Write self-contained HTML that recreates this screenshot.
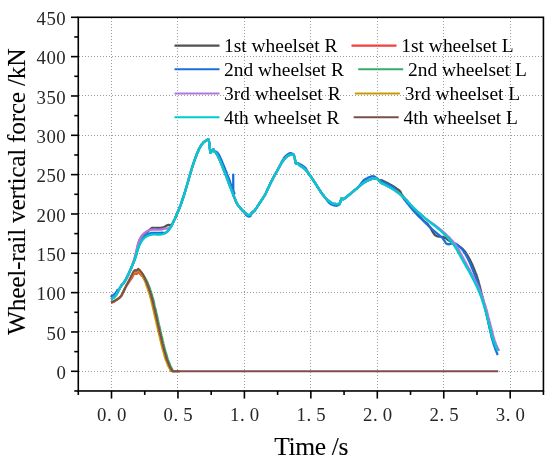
<!DOCTYPE html>
<html lang="en"><head><meta charset="utf-8"><title>Wheel-rail vertical force</title>
<style>html,body{margin:0;padding:0;background:#fff;}svg{display:block;}text{font-family:"Liberation Serif","Noto Serif CJK SC",serif;fill:#000;}.tk{font-size:18.8px;letter-spacing:0.6px;fill:#262626;}.lg{font-size:19.45px;}.ax{font-size:25.5px;stroke:#000;stroke-width:0.1px;}</style></head><body>
<svg width="550" height="466" viewBox="0 0 550 466">
<rect x="0" y="0" width="550" height="466" fill="#ffffff"/>
<g stroke="#9c9c9c" stroke-width="1" stroke-dasharray="1 2" fill="none">
<line x1="111.5" y1="18" x2="111.5" y2="391.0"/>
<line x1="177.5" y1="18" x2="177.5" y2="391.0"/>
<line x1="244.5" y1="18" x2="244.5" y2="391.0"/>
<line x1="310.5" y1="18" x2="310.5" y2="391.0"/>
<line x1="377.5" y1="18" x2="377.5" y2="391.0"/>
<line x1="443.5" y1="18" x2="443.5" y2="391.0"/>
<line x1="510.5" y1="18" x2="510.5" y2="391.0"/>
<line x1="79" y1="371.5" x2="543.4" y2="371.5"/>
<line x1="79" y1="331.5" x2="543.4" y2="331.5"/>
<line x1="79" y1="292.5" x2="543.4" y2="292.5"/>
<line x1="79" y1="253.5" x2="543.4" y2="253.5"/>
<line x1="79" y1="213.5" x2="543.4" y2="213.5"/>
<line x1="79" y1="174.5" x2="543.4" y2="174.5"/>
<line x1="79" y1="135.5" x2="543.4" y2="135.5"/>
<line x1="79" y1="95.5" x2="543.4" y2="95.5"/>
<line x1="79" y1="56.5" x2="543.4" y2="56.5"/>
</g>
<g fill="none" stroke-width="2.1" stroke-linejoin="round" stroke-linecap="butt">
<path stroke="#515151" stroke-width="2.3" d="M111.1,299.1 L111.7,298.7 L112.4,298.4 L113.0,298.0 L113.6,297.5 L114.1,297.1 L114.7,296.6 L115.1,296.1 L115.6,295.6 L116.0,295.1 L116.4,294.6 L116.8,293.9 L117.1,293.2 L117.5,292.6 L117.8,291.9 L118.2,291.2 L118.5,290.5 L118.8,289.9 L119.2,289.3 L119.5,288.7 L119.9,288.1 L120.2,287.4 L120.6,286.8 L121.0,286.2 L121.3,285.6 L121.8,285.1 L122.2,284.6 L122.7,284.2 L123.1,283.7 L123.6,283.2 L124.0,282.6 L124.3,281.9 L124.7,281.3 L125.1,280.7 L125.5,280.1 L125.8,279.4 L126.2,278.8 L126.5,278.1 L126.9,277.4 L127.2,276.8 L127.5,276.1 L127.8,275.4 L128.2,274.8 L128.5,274.1 L128.8,273.4 L129.1,272.7 L129.5,271.9 L129.8,271.2 L130.1,270.5 L130.4,269.8 L130.8,269.0 L131.1,268.3 L131.4,267.6 L131.7,266.8 L132.0,266.1 L132.3,265.4 L132.6,264.7 L132.9,263.9 L133.2,263.2 L133.5,262.5 L133.8,261.7 L134.1,260.9 L134.4,259.9 L134.7,258.9 L135.0,258.0 L135.2,257.1 L135.4,256.2 L135.6,255.4 L135.9,254.5 L136.1,253.6 L136.3,252.8 L136.5,251.9 L136.7,251.0 L136.9,250.1 L137.1,249.2 L137.3,248.3 L137.5,247.4 L137.7,246.5 L137.9,245.6 L138.2,244.7 L138.4,243.8 L138.7,242.9 L138.9,242.1 L139.2,241.3 L139.4,240.6 L139.7,240.0 L140.1,239.4 L140.4,238.7 L140.8,238.1 L141.1,237.5 L141.5,237.0 L141.8,236.5 L142.2,236.0 L142.6,235.5 L143.0,235.2 L143.4,234.8 L143.9,234.3 L144.3,233.9 L144.8,233.5 L145.2,233.2 L145.7,232.8 L146.2,232.4 L146.9,232.0 L147.5,231.7 L148.2,231.2 L148.8,230.6 L149.4,230.1 L150.0,229.5 L150.7,229.0 L151.3,228.4 L152.0,227.9 L152.7,227.9 L153.3,227.8 L154.0,227.8 L154.7,227.8 L155.3,227.8 L155.9,227.8 L156.6,227.9 L157.2,227.9 L157.9,227.9 L158.6,227.9 L159.3,227.9 L160.0,227.9 L160.9,227.8 L161.8,227.7 L162.7,227.6 L163.4,227.3 L164.2,227.0 L165.0,226.7 L165.6,226.3 L166.1,225.9 L166.7,225.5 L167.2,225.3 L167.8,225.1 L168.4,224.9 L169.0,225.0 L169.5,225.1 L169.9,225.1 L170.2,225.0 L170.6,224.9 L170.9,224.8 L171.3,224.7 L171.6,224.6 L172.0,224.4 L172.3,224.0 L172.6,223.4 L173.0,222.8 L173.3,222.1 L173.6,221.4 L173.9,220.7 L174.2,220.0 L174.6,219.3 L174.9,218.7 L175.2,218.0 L175.5,217.4 L175.8,216.7 L176.1,216.1 L176.3,215.4 L176.6,214.8 L176.9,214.1 L177.2,213.5 L177.5,212.9 L177.7,212.2 L178.0,211.6 L178.3,210.9 L178.6,210.3 L178.8,209.6 L179.1,209.0 L179.3,208.4 L179.6,207.7 L179.8,207.1 L180.1,206.4 L180.3,205.8 L180.6,205.1 L180.8,204.5 L181.1,203.8 L181.3,203.0 L181.6,202.2 L181.8,201.5 L182.1,200.8 L182.3,200.0 L182.6,199.2 L182.8,198.5 L183.1,197.8 L183.4,197.0 L183.6,196.2 L183.8,195.5 L184.1,194.8 L184.3,194.0 L184.5,193.2 L184.8,192.5 L185.0,191.8 L185.2,191.0 L185.4,190.3 L185.7,189.5 L185.9,188.8 L186.1,188.0 L186.3,187.3 L186.6,186.5 L186.8,185.8 L187.0,185.0 L187.2,184.3 L187.4,183.6 L187.6,182.8 L187.9,182.1 L188.1,181.3 L188.3,180.6 L188.5,179.8 L188.7,179.1 L188.9,178.3 L189.1,177.6 L189.4,176.8 L189.6,176.1 L189.8,175.3 L190.0,174.6 L190.2,173.8 L190.4,173.1 L190.7,172.3 L190.9,171.6 L191.1,170.8 L191.3,170.1 L191.6,169.3 L191.8,168.6 L192.0,167.8 L192.2,167.1 L192.5,166.3 L192.7,165.6 L193.0,164.9 L193.2,164.1 L193.5,163.4 L193.7,162.6 L194.0,161.9 L194.2,161.2 L194.5,160.4 L194.7,159.7 L195.0,159.0 L195.3,158.2 L195.6,157.5 L195.8,156.8 L196.1,156.0 L196.4,155.3 L196.7,154.5 L197.0,153.8 L197.3,153.2 L197.6,152.5 L197.8,151.8 L198.1,151.2 L198.4,150.6 L198.6,149.9 L198.9,149.2 L199.2,148.6 L199.6,148.0 L200.0,147.3 L200.3,146.7 L200.7,146.1 L201.1,145.4 L201.5,144.8 L201.9,144.3 L202.3,143.8 L202.8,143.3 L203.2,142.8 L203.6,142.3 L204.2,141.9 L204.7,141.5 L205.3,141.1 L205.8,140.7 L206.4,140.3 L207.0,140.0 L207.6,139.6 L208.2,139.3 L208.4,139.8 L208.7,140.3 L208.9,140.8 L209.0,141.5 L209.2,142.2 L209.3,142.8 L209.4,143.5 L209.5,144.2 L209.5,145.0 L209.6,145.8 L209.7,146.5 L209.7,147.2 L209.8,148.0 L209.9,148.8 L210.0,149.5 L210.1,150.3 L210.1,151.1 L210.2,151.8 L210.3,152.6 L210.7,152.4 L211.0,152.2 L211.4,151.5 L211.8,150.9 L212.2,150.2 L212.8,149.7 L213.4,149.2 L213.6,149.8 L213.8,150.3 L213.9,150.9 L214.1,151.5 L214.7,151.9 L215.4,152.4 L216.0,152.8 L216.3,153.4 L216.7,154.1 L217.1,154.7 L217.4,155.3 L217.8,156.0 L218.1,156.6 L218.4,157.3 L218.7,157.9 L219.0,158.6 L219.3,159.2 L219.6,159.9 L219.9,160.5 L220.2,161.2 L220.5,161.9 L220.8,162.7 L221.1,163.4 L221.4,164.1 L221.7,164.9 L222.0,165.6 L222.3,166.3 L222.6,167.0 L222.8,167.7 L223.1,168.4 L223.4,169.0 L223.7,169.7 L223.9,170.4 L224.2,171.1 L224.5,171.8 L224.8,172.5 L225.1,173.2 L225.3,173.9 L225.6,174.6 L225.9,175.4 L226.2,176.1 L226.4,176.8 L226.7,177.5 L227.0,178.2 L227.3,178.9 L227.5,179.6 L227.8,180.3 L228.0,181.0 L228.3,181.8 L228.5,182.5 L228.8,183.2 L229.0,183.9 L229.3,184.6 L229.6,185.3 L229.8,185.9 L230.1,186.6 L230.4,187.3 L230.6,187.9 L230.9,188.6 L231.2,189.3 L231.4,189.9 L231.7,190.6 L232.0,191.3 L232.2,192.1 L232.5,192.8 L232.8,193.5 L233.1,194.2 L233.3,194.9 L233.6,195.7 L233.9,196.4 L234.2,197.1 L234.5,197.8 L234.7,198.4 L235.0,199.1 L235.3,199.8 L235.6,200.5 L235.9,201.2 L236.2,202.0 L236.5,202.7 L236.8,203.4 L237.2,204.0 L237.6,204.5 L238.0,205.1 L238.4,205.6 L238.8,206.2 L239.2,206.7 L239.6,207.3 L240.1,207.8 L240.5,208.3 L241.0,208.9 L241.5,209.4 L241.9,209.9 L242.4,210.4 L243.0,210.9 L243.6,211.4 L244.1,211.8 L244.7,212.3 L245.3,212.8 L245.8,213.2 L246.2,213.6 L246.7,214.0 L247.2,214.4 L247.7,214.7 L248.2,214.9 L248.7,215.2 L249.3,215.1 L249.9,214.9 L250.5,214.8 L250.8,214.3 L251.0,213.9 L251.3,213.4 L251.7,212.8 L252.0,212.1 L252.7,211.8 L253.5,211.5 L254.2,211.2 L254.6,210.5 L255.1,209.9 L255.5,209.2 L256.0,208.6 L256.4,208.0 L256.9,207.3 L257.3,206.7 L257.7,206.1 L258.1,205.5 L258.5,204.8 L258.9,204.2 L259.3,203.6 L259.7,203.0 L260.1,202.4 L260.5,201.8 L260.9,201.2 L261.2,200.7 L261.6,200.1 L262.0,199.5 L262.4,198.9 L262.8,198.3 L263.2,197.7 L263.6,197.1 L263.9,196.5 L264.3,195.9 L264.7,195.3 L265.1,194.7 L265.4,194.0 L265.8,193.3 L266.1,192.6 L266.5,191.8 L266.8,191.1 L267.1,190.4 L267.5,189.7 L267.8,189.0 L268.1,188.3 L268.4,187.6 L268.7,187.0 L269.0,186.3 L269.4,185.6 L269.7,184.9 L270.0,184.3 L270.3,183.6 L270.6,182.9 L270.9,182.2 L271.3,181.6 L271.6,180.9 L272.0,180.3 L272.3,179.7 L272.6,179.0 L273.0,178.3 L273.3,177.7 L273.7,177.1 L274.0,176.5 L274.4,175.9 L274.7,175.2 L275.1,174.6 L275.4,174.0 L275.8,173.4 L276.1,172.8 L276.4,172.2 L276.8,171.5 L277.1,170.9 L277.5,170.2 L277.8,169.6 L278.1,169.0 L278.5,168.3 L278.8,167.7 L279.2,167.1 L279.5,166.5 L279.9,165.9 L280.2,165.2 L280.6,164.6 L280.9,164.0 L281.2,163.4 L281.6,162.8 L282.0,162.2 L282.5,161.6 L282.9,161.0 L283.4,160.4 L283.8,159.8 L284.3,159.3 L284.7,158.8 L285.2,158.3 L285.6,157.8 L286.1,157.3 L286.7,156.9 L287.2,156.4 L287.8,156.0 L288.4,155.6 L289.0,155.3 L289.5,155.1 L290.1,154.8 L290.7,154.6 L291.4,154.6 L292.0,154.6 L292.7,154.6 L293.4,154.6 L293.8,155.3 L294.1,156.0 L294.3,156.7 L294.5,157.5 L294.7,158.2 L294.9,158.9 L295.0,159.6 L295.1,160.3 L295.3,161.0 L295.4,161.6 L295.6,162.2 L295.7,162.8 L295.8,163.4 L296.5,163.5 L297.3,163.6 L298.0,163.7 L298.4,164.1 L298.9,164.6 L299.4,165.1 L299.8,165.5 L300.5,165.9 L301.1,166.3 L301.8,166.8 L302.5,167.2 L303.1,167.6 L303.6,168.1 L304.2,168.5 L304.7,169.0 L305.3,169.4 L305.8,170.0 L306.2,170.5 L306.6,171.1 L307.1,171.7 L307.6,172.2 L308.0,172.8 L308.5,173.4 L308.9,174.0 L309.4,174.7 L309.9,175.3 L310.3,175.9 L310.8,176.5 L311.2,177.1 L311.6,177.7 L312.0,178.3 L312.3,178.8 L312.7,179.4 L313.1,180.0 L313.5,180.6 L313.9,181.2 L314.3,181.8 L314.7,182.4 L315.0,182.9 L315.4,183.5 L315.8,184.1 L316.2,184.7 L316.6,185.3 L317.0,186.0 L317.4,186.6 L317.8,187.3 L318.2,187.9 L318.6,188.6 L319.0,189.2 L319.4,189.8 L319.8,190.3 L320.2,190.9 L320.5,191.5 L320.9,192.1 L321.3,192.6 L321.7,193.2 L322.2,193.8 L322.6,194.4 L323.1,195.0 L323.5,195.6 L324.0,196.2 L324.4,196.7 L324.9,197.2 L325.3,197.7 L325.8,198.2 L326.2,198.7 L326.7,199.2 L327.2,199.6 L327.8,200.1 L328.3,200.5 L328.8,201.0 L329.3,201.4 L329.8,201.8 L330.4,202.1 L330.9,202.5 L331.4,202.9 L332.1,203.1 L332.8,203.4 L333.4,203.6 L334.1,203.8 L334.8,203.9 L335.5,204.0 L336.2,204.1 L336.9,204.2 L337.6,204.1 L338.2,204.0 L338.9,203.9 L339.6,203.8 L339.9,203.1 L340.1,202.4 L340.4,201.7 L340.6,201.0 L340.8,200.3 L341.1,199.7 L341.3,199.1 L341.5,198.4 L342.1,198.7 L342.7,199.0 L343.3,199.3 L343.8,198.9 L344.4,198.5 L344.9,198.2 L345.5,197.8 L346.0,197.4 L346.5,197.0 L347.1,196.5 L347.6,196.1 L348.2,195.6 L348.7,195.2 L349.3,194.7 L349.8,194.3 L350.4,193.8 L350.9,193.4 L351.5,192.9 L352.0,192.4 L352.6,192.0 L353.1,191.5 L353.7,191.1 L354.2,190.6 L354.8,190.1 L355.3,189.7 L355.9,189.2 L356.4,188.8 L357.0,188.3 L357.5,187.8 L358.1,187.4 L358.6,186.9 L359.2,186.5 L359.7,186.0 L360.2,185.6 L360.8,185.1 L361.3,184.7 L361.9,184.2 L362.4,183.8 L362.9,183.4 L363.5,183.0 L364.0,182.6 L364.7,182.2 L365.3,181.8 L365.9,181.5 L366.6,181.1 L367.2,180.8 L367.9,180.4 L368.5,180.1 L369.3,179.8 L370.1,179.6 L370.9,179.3 L371.6,179.0 L372.3,178.8 L373.0,178.7 L373.7,178.5 L374.4,178.3 L375.1,178.4 L375.8,178.6 L376.4,178.7 L377.1,178.8 L377.6,179.3 L378.2,179.8 L378.6,180.3 L379.0,180.5 L379.4,180.5 L379.9,180.5 L380.4,180.5 L380.8,180.5 L381.4,180.2 L381.9,180.4 L382.4,180.6 L383.0,180.9 L383.5,181.1 L384.0,181.3 L384.4,181.5 L384.9,181.7 L385.4,182.0 L385.9,182.3 L386.5,182.6 L387.0,182.8 L387.5,183.1 L388.0,183.4 L388.6,183.7 L389.2,184.0 L389.8,184.4 L390.4,184.7 L391.0,185.0 L391.6,185.3 L392.2,185.7 L392.8,186.1 L393.4,186.4 L394.0,186.8 L394.6,187.2 L395.2,187.6 L395.8,188.0 L396.4,188.5 L397.0,188.9 L397.7,189.3 L398.3,189.8 L398.9,190.2 L399.5,190.7 L400.1,191.3 L400.7,192.4 L401.3,193.6 L401.9,194.7 L404.1,197.6 L404.6,198.2 L405.1,198.8 L405.6,199.4 L406.1,200.0 L406.5,200.6 L407.0,201.2 L407.5,201.8 L408.0,202.4 L408.5,203.0 L408.9,203.6 L409.4,204.2 L409.8,204.8 L410.2,205.4 L410.6,206.0 L411.1,206.6 L411.5,207.2 L411.9,207.8 L412.3,208.4 L412.8,209.0 L413.2,209.6 L413.7,210.2 L414.1,210.7 L414.6,211.3 L415.1,211.9 L415.5,212.4 L416.0,213.0 L416.4,213.5 L416.9,214.0 L417.4,214.5 L417.8,215.0 L418.2,215.5 L418.7,216.0 L419.3,216.5 L419.9,217.1 L420.4,217.6 L421.0,218.2 L421.6,218.7 L422.1,219.2 L422.7,219.8 L423.3,220.3 L423.9,220.8 L424.4,221.3 L425.0,221.8 L425.6,222.2 L426.1,222.7 L426.7,223.2 L427.2,223.7 L427.8,224.2 L428.2,224.8 L428.7,225.4 L429.1,226.0 L429.6,226.6 L430.1,227.2 L430.5,227.8 L430.8,228.4 L431.1,229.0 L431.4,229.7 L431.8,230.3 L432.1,230.9 L432.4,231.5 L432.8,232.0 L433.1,232.6 L433.4,233.1 L433.8,233.6 L434.2,234.1 L434.7,234.7 L435.1,235.2 L435.7,235.5 L436.3,235.8 L436.9,236.1 L437.5,236.3 L438.2,236.4 L438.8,236.6 L439.5,236.7 L440.3,236.7 L441.0,236.8 L441.6,236.9 L442.2,236.9 L442.8,236.9 L443.4,237.0 L444.0,237.3 L444.5,237.6 L445.1,237.9 L445.7,238.2 L446.2,238.6 L446.8,239.0 L447.3,239.4 L447.9,239.8 L448.5,240.2 L449.0,240.5 L449.6,240.9 L450.1,241.2 L450.7,241.6 L451.2,242.0 L451.8,242.3 L452.3,242.7 L452.9,243.0 L453.4,243.4 L454.1,243.8 L454.8,244.1 L455.5,244.5 L456.2,244.8 L456.9,245.1 L457.5,245.4 L458.2,245.8 L458.9,246.1 L459.4,246.5 L460.0,246.9 L460.5,247.2 L461.1,247.6 L461.6,248.0 L462.1,248.5 L462.7,249.1 L463.2,249.6 L463.8,250.2 L464.3,250.7 L464.7,251.2 L465.1,251.8 L465.5,252.3 L465.8,252.9 L466.2,253.4 L466.6,254.0 L467.0,254.7 L467.4,255.3 L467.8,256.0 L468.1,256.7 L468.5,257.3 L468.9,258.0 L469.3,258.7 L469.7,259.4 L470.0,260.1 L470.4,260.8 L470.8,261.5 L471.1,262.1 L471.4,262.8 L471.7,263.4 L472.0,264.0 L472.3,264.7 L472.6,265.3 L472.9,266.0 L473.1,266.6 L473.4,267.3 L473.6,268.0 L473.9,268.7 L474.1,269.3 L474.4,270.0 L474.7,270.7 L475.0,271.4 L475.3,272.1 L475.6,272.9 L475.9,273.6 L476.2,274.3 L476.5,275.0 L476.7,275.7 L476.9,276.4 L477.2,277.2 L477.4,277.9 L477.6,278.6 L477.9,279.4 L478.1,280.1 L478.3,280.8 L478.5,281.5 L478.7,282.3 L478.9,283.0 L479.1,283.7 L479.3,284.5 L479.5,285.2 L479.7,285.9 L479.9,286.7 L480.1,287.4 L480.3,288.2 L480.5,288.9 L480.7,289.7 L480.9,290.4 L481.0,291.2 L481.2,292.0 L481.4,292.7 L481.6,293.5 L481.8,294.2 L482.0,294.9 L482.1,295.7 L482.3,296.4 L482.5,297.1 L482.7,297.8 L482.8,298.6 L483.0,299.3 L483.2,300.0 L483.4,300.8 L483.6,301.5 L483.7,302.2 L483.9,303.0 L484.1,303.8 L484.3,304.5 L484.5,305.2 L484.6,306.0 L484.8,306.8 L485.0,307.5 L485.2,308.2 L485.4,309.0 L485.5,309.8 L485.7,310.5 L485.9,311.2 L486.1,312.0 L486.3,312.8 L486.4,313.5 L486.6,314.2 L486.8,315.0 L487.0,315.8 L487.2,316.5 L487.3,317.2 L487.5,318.0 L487.7,318.8 L487.9,319.5 L488.1,320.2 L488.2,321.0 L488.4,321.8 L488.6,322.5 L488.8,323.2 L488.9,324.0 L489.1,324.8 L489.3,325.5 L489.5,326.2 L489.6,327.0 L489.8,327.8 L490.0,328.5 L490.1,329.2 L490.3,330.0 L490.5,330.8 L490.7,331.5 L490.9,332.2 L491.1,333.0 L491.4,333.8 L491.6,334.5 L491.8,335.2 L492.0,336.0 L492.2,336.8 L492.4,337.5 L492.6,338.2 L492.9,338.9 L493.1,339.7 L493.3,340.4 L493.6,341.1 L493.8,341.8 L494.0,342.6 L494.3,343.3 L494.5,344.0 L494.8,344.7 L495.1,345.4 L495.4,346.2 L495.7,346.9 L496.1,347.6 L496.4,348.3 L496.7,349.1 L497.0,349.8 L497.3,350.5"/>
<path stroke="#F14040" d="M111.1,302.8 L111.7,302.6 L112.3,302.4 L112.9,302.2 L113.5,302.0 L114.1,301.7 L114.7,301.3 L115.2,300.9 L115.8,300.5 L116.4,300.1 L117.1,299.7 L117.7,299.2 L118.3,298.7 L119.0,298.3 L119.5,297.8 L119.9,297.2 L120.4,296.8 L120.8,296.3 L121.3,295.8 L121.6,295.2 L122.0,294.5 L122.3,293.9 L122.7,293.2 L123.0,292.6 L123.3,291.9 L123.6,291.3 L123.9,290.6 L124.2,290.0 L124.5,289.3 L124.9,288.6 L125.2,287.9 L125.6,287.2 L125.9,286.5 L126.3,286.0 L126.6,285.5 L127.0,285.0 L127.4,284.5 L127.7,284.0 L128.1,283.5 L128.4,283.0 L128.8,282.5 L129.1,282.0 L129.5,281.5 L129.8,281.0 L130.2,280.4 L130.6,279.9 L130.9,279.4 L131.2,278.9 L131.6,278.4 L131.9,277.9 L132.3,277.3 L132.6,276.6 L132.9,276.0 L133.3,275.3 L133.6,274.7 L134.0,274.2 L134.4,273.8 L134.8,273.6 L135.2,273.4 L135.6,273.7 L136.0,274.0 L136.4,273.9 L136.8,273.9 L137.2,273.2 L137.6,272.6 L138.1,272.4 L138.5,272.2 L138.9,272.7 L139.3,273.2 L139.7,273.6 L140.1,274.0 L140.6,274.6 L141.1,275.2 L141.5,275.5 L141.9,275.9 L142.3,276.3 L142.6,276.7 L143.0,277.1 L143.3,277.5 L143.6,278.0 L143.9,278.5 L144.2,278.9 L144.5,279.4 L144.8,279.8 L145.1,280.4 L145.4,281.0 L145.7,281.5 L146.0,282.1 L146.3,282.6 L146.6,283.2 L146.9,283.8 L147.1,284.4 L147.4,285.1 L147.6,285.8 L147.8,286.4 L148.1,287.1 L148.3,287.8 L148.6,288.5 L148.8,289.2 L149.1,290.0 L149.3,290.8 L149.6,291.5 L149.8,292.2 L150.1,293.0 L150.3,293.8 L150.6,294.5 L150.8,295.2 L151.0,295.9 L151.2,296.7 L151.4,297.4 L151.6,298.1 L151.8,298.9 L152.0,299.6 L152.2,300.3 L152.4,301.0 L152.5,301.8 L152.7,302.5 L152.9,303.2 L153.1,304.0 L153.2,304.7 L153.4,305.5 L153.6,306.2 L153.7,306.9 L153.9,307.7 L154.1,308.4 L154.3,309.1 L154.4,309.9 L154.6,310.6 L154.8,311.4 L155.0,312.2 L155.1,312.9 L155.3,313.7 L155.5,314.5 L155.7,315.3 L155.8,316.1 L156.0,316.8 L156.2,317.6 L156.4,318.4 L156.6,319.2 L156.7,319.9 L156.9,320.7 L157.1,321.5 L157.3,322.2 L157.4,323.0 L157.6,323.7 L157.7,324.4 L157.9,325.2 L158.1,325.9 L158.2,326.6 L158.4,327.3 L158.6,328.1 L158.7,328.8 L158.9,329.5 L159.0,330.3 L159.2,331.0 L159.4,331.8 L159.6,332.5 L159.8,333.3 L159.9,334.1 L160.1,334.8 L160.3,335.6 L160.5,336.3 L160.7,337.1 L160.9,337.9 L161.0,338.6 L161.2,339.4 L161.4,340.2 L161.6,340.9 L161.8,341.7 L162.0,342.4 L162.1,343.2 L162.3,344.0 L162.5,344.7 L162.7,345.5 L162.9,346.3 L163.1,347.0 L163.3,347.8 L163.5,348.5 L163.7,349.3 L163.9,350.1 L164.1,350.8 L164.3,351.6 L164.6,352.3 L164.8,353.1 L165.0,353.8 L165.2,354.6 L165.4,355.4 L165.6,356.1 L165.8,356.9 L166.0,357.6 L166.2,358.4 L166.5,359.1 L166.7,359.8 L167.0,360.5 L167.3,361.2 L167.6,361.9 L167.8,362.5 L168.1,363.2 L168.4,363.9 L168.7,364.6 L168.9,365.3 L169.2,366.0 L169.6,366.7 L169.9,367.4 L170.3,368.1 L170.7,368.8 L171.1,369.5 L171.4,370.2 L171.8,370.9 L172.6,371.3 L173.4,371.3 L174.2,371.3 L175.0,371.3 L175.8,371.3 L176.6,371.3 L177.4,371.3 L178.2,371.3 L179.0,371.3 L179.8,371.3"/>
<path stroke="#1A6FDF" stroke-width="2.3" d="M111.1,297.2 L111.7,296.1 L112.4,295.8 L113.0,295.4 L113.6,294.9 L114.1,294.5 L114.7,294.0 L115.1,293.5 L115.6,293.0 L116.0,292.5 L116.4,292.0 L116.8,291.3 L117.1,290.6 L117.5,289.9 L117.8,289.8 L118.2,289.7 L118.5,289.6 L118.8,289.6 L119.2,289.3 L119.5,288.7 L119.9,288.1 L120.2,287.4 L120.6,286.8 L121.0,286.2 L121.3,285.6 L121.8,285.1 L122.2,284.6 L122.7,284.2 L123.1,283.7 L123.6,283.2 L124.0,282.6 L124.3,281.9 L124.7,281.3 L125.1,280.7 L125.5,280.1 L125.8,279.4 L126.2,278.8 L126.5,278.1 L126.9,277.4 L127.2,276.8 L127.5,276.1 L127.8,275.4 L128.2,274.8 L128.5,274.1 L128.8,273.4 L129.1,272.7 L129.5,271.9 L129.8,271.2 L130.1,270.5 L130.4,269.8 L130.8,269.0 L131.1,268.3 L131.4,267.6 L131.7,266.8 L132.0,266.1 L132.3,265.4 L132.6,264.7 L132.9,263.9 L133.2,263.2 L133.5,262.5 L133.8,261.7 L134.1,261.0 L134.4,260.3 L134.7,259.5 L135.0,258.8 L135.2,258.1 L135.4,257.4 L135.6,256.7 L135.9,256.1 L136.1,255.4 L136.3,254.7 L136.5,254.0 L136.7,253.3 L136.9,252.5 L137.1,251.8 L137.3,251.1 L137.5,250.4 L137.7,249.6 L137.9,248.9 L138.2,248.2 L138.4,247.5 L138.7,246.9 L138.9,246.2 L139.2,245.5 L139.4,244.8 L139.7,244.2 L140.1,243.6 L140.4,242.9 L140.8,242.3 L141.1,241.7 L141.5,241.0 L141.8,240.4 L142.2,239.7 L142.6,239.1 L143.0,238.6 L143.4,238.0 L143.9,237.4 L144.3,236.8 L144.8,236.2 L145.2,235.8 L145.7,235.4 L146.2,235.0 L146.9,234.6 L147.5,234.3 L148.2,233.9 L148.8,233.7 L149.4,233.5 L150.0,233.3 L150.7,233.2 L151.3,233.0 L152.0,232.9 L152.7,232.9 L153.3,232.8 L154.0,232.8 L154.7,232.8 L155.3,232.8 L155.9,232.8 L156.6,232.9 L157.2,232.9 L157.9,232.9 L158.6,232.9 L159.3,232.9 L160.0,232.9 L160.9,232.8 L161.8,232.7 L162.7,232.9 L163.4,232.9 L164.2,232.9 L165.0,232.9 L165.6,232.7 L166.1,232.5 L166.7,232.1 L167.2,231.7 L167.8,231.0 L168.4,230.4 L169.0,229.7 L169.5,229.0 L169.9,228.4 L170.2,227.8 L170.6,227.2 L170.9,226.6 L171.3,226.0 L171.6,225.4 L172.0,224.7 L172.3,224.1 L172.6,223.4 L173.0,222.8 L173.3,222.1 L173.6,221.4 L173.9,220.7 L174.2,220.0 L174.6,219.3 L174.9,218.7 L175.2,218.0 L175.5,217.4 L175.8,216.7 L176.1,216.1 L176.3,215.4 L176.6,214.8 L176.9,214.1 L177.2,213.5 L177.5,212.9 L177.7,212.2 L178.0,211.6 L178.3,210.9 L178.6,210.3 L178.8,209.6 L179.1,209.0 L179.3,208.4 L179.6,207.7 L179.8,207.1 L180.1,206.4 L180.3,205.8 L180.6,205.1 L180.8,204.5 L181.1,203.8 L181.3,203.0 L181.6,202.2 L181.8,201.5 L182.1,200.8 L182.3,200.0 L182.6,199.2 L182.8,198.5 L183.1,197.8 L183.4,197.0 L183.6,196.2 L183.8,195.5 L184.1,194.8 L184.3,194.0 L184.5,193.2 L184.8,192.5 L185.0,191.8 L185.2,191.0 L185.4,190.3 L185.7,189.5 L185.9,188.8 L186.1,188.0 L186.3,187.3 L186.6,186.5 L186.8,185.8 L187.0,185.0 L187.2,184.3 L187.4,183.6 L187.6,182.8 L187.9,182.1 L188.1,181.3 L188.3,180.6 L188.5,179.8 L188.7,179.1 L188.9,178.3 L189.1,177.6 L189.4,176.8 L189.6,176.1 L189.8,175.3 L190.0,174.6 L190.2,173.8 L190.4,173.1 L190.7,172.3 L190.9,171.6 L191.1,170.8 L191.3,170.1 L191.6,169.3 L191.8,168.6 L192.0,167.8 L192.2,167.1 L192.5,166.3 L192.7,165.6 L193.0,164.9 L193.2,164.1 L193.5,163.4 L193.7,162.6 L194.0,161.9 L194.2,161.2 L194.5,160.4 L194.7,159.7 L195.0,159.0 L195.3,158.2 L195.6,157.5 L195.8,156.8 L196.1,156.0 L196.4,155.3 L196.7,154.5 L197.0,153.8 L197.3,153.2 L197.6,152.5 L197.8,151.8 L198.1,151.2 L198.4,150.6 L198.6,149.9 L198.9,149.2 L199.2,148.6 L199.6,148.0 L200.0,147.3 L200.3,146.7 L200.7,146.1 L201.1,145.4 L201.5,144.8 L201.9,144.3 L202.3,143.8 L202.8,143.3 L203.2,142.8 L203.6,142.3 L204.2,141.9 L204.7,141.5 L205.3,141.1 L205.8,140.7 L206.4,140.3 L207.0,140.0 L207.6,139.6 L208.2,139.3 L208.4,139.8 L208.7,140.3 L208.9,140.8 L209.0,141.5 L209.2,142.2 L209.3,142.8 L209.4,143.5 L209.5,144.2 L209.5,145.0 L209.6,145.8 L209.7,146.5 L209.7,147.2 L209.8,148.0 L209.9,148.8 L210.0,149.5 L210.1,150.3 L210.1,151.1 L210.2,151.8 L210.3,152.6 L210.7,152.4 L211.0,152.2 L211.4,151.5 L211.8,150.9 L212.2,150.2 L212.8,149.7 L213.4,149.2 L213.6,149.8 L213.8,150.3 L213.9,150.9 L215.7,151.5 L216.3,151.9 L217.0,152.3 L217.6,152.7 L217.9,153.3 L218.3,153.9 L218.7,154.5 L219.0,155.1 L219.3,155.7 L219.7,156.3 L220.0,157.0 L220.3,157.6 L220.6,158.3 L220.9,158.9 L221.2,159.6 L221.5,160.2 L221.8,160.9 L222.1,161.6 L222.4,162.4 L222.7,163.1 L223.0,163.8 L223.3,164.6 L223.6,165.3 L223.9,166.0 L224.2,166.7 L224.4,167.4 L224.7,168.1 L225.0,168.7 L225.3,169.4 L225.5,170.1 L225.8,170.8 L226.1,171.5 L226.4,172.2 L226.7,172.9 L226.9,173.6 L227.2,174.3 L227.5,175.1 L227.8,175.8 L228.0,176.5 L228.3,177.2 L228.6,177.9 L228.9,178.6 L229.1,179.3 L229.4,180.0 L229.6,180.7 L229.9,181.5 L230.1,182.2 L230.4,182.9 L230.6,183.6 L230.9,184.3 L231.2,185.0 L231.4,185.7 L231.7,186.4 L232.0,187.1 L232.2,187.8 L232.5,188.4 L232.8,189.1 L233.0,189.8 L233.3,190.5 L233.6,191.2 L233.3,191.2 L233.2,174.6 L233.3,191.2 L233.8,192.0 L234.1,192.7 L234.4,193.5 L233.1,194.2 L233.3,194.9 L233.6,195.7 L233.9,196.4 L234.2,197.1 L234.5,197.8 L234.7,198.4 L235.0,199.1 L235.3,199.8 L235.6,200.5 L235.9,201.2 L236.2,202.0 L236.5,202.7 L236.8,203.4 L237.2,204.0 L237.6,204.5 L238.0,205.1 L238.4,205.6 L238.8,206.2 L239.2,206.7 L239.6,207.3 L240.1,207.8 L240.5,208.3 L241.0,208.9 L241.5,209.4 L241.9,209.9 L242.4,210.4 L243.0,210.9 L243.6,211.6 L244.1,212.4 L244.7,213.1 L245.3,213.9 L245.8,214.5 L246.2,215.0 L246.7,215.4 L247.2,215.8 L247.7,216.1 L248.2,216.3 L248.7,216.6 L249.3,216.5 L249.9,216.3 L250.5,216.0 L250.8,215.4 L251.0,214.8 L251.3,214.2 L251.7,213.4 L252.0,212.6 L252.7,211.9 L253.5,211.5 L254.2,211.2 L254.6,210.5 L255.1,209.9 L255.5,209.2 L256.0,208.6 L256.4,208.0 L256.9,207.3 L257.3,206.7 L257.7,206.1 L258.1,205.5 L258.5,204.8 L258.9,204.2 L259.3,203.6 L259.7,203.0 L260.1,202.4 L260.5,201.8 L260.9,201.2 L261.2,200.7 L261.6,200.1 L262.0,199.5 L262.4,198.9 L262.8,198.3 L263.2,197.7 L263.6,197.1 L263.9,196.5 L264.3,195.9 L264.7,195.3 L265.1,194.7 L265.4,194.0 L265.8,193.3 L266.1,192.6 L266.5,191.8 L266.8,191.1 L267.1,190.4 L267.5,189.7 L267.8,189.0 L268.1,188.3 L268.4,187.6 L268.7,187.0 L269.0,186.3 L269.4,185.6 L269.7,184.9 L270.0,184.3 L270.3,183.6 L270.6,182.9 L270.9,182.2 L271.3,181.6 L271.6,180.9 L272.0,180.3 L272.3,179.7 L272.6,179.0 L273.0,178.3 L273.3,177.7 L273.7,177.1 L274.0,176.5 L274.4,175.9 L274.7,175.2 L275.1,174.6 L275.4,174.0 L275.8,173.4 L276.1,172.8 L276.4,172.2 L276.8,171.5 L277.1,170.9 L277.5,170.2 L277.8,169.6 L278.1,169.0 L278.5,168.3 L278.8,167.7 L279.2,167.1 L279.5,166.5 L279.9,165.9 L280.2,165.2 L280.6,164.4 L280.9,163.6 L281.2,162.9 L281.6,162.1 L282.0,161.3 L282.5,160.5 L282.9,159.8 L283.4,159.0 L283.8,158.2 L284.3,157.6 L284.7,157.1 L285.2,156.6 L285.6,156.1 L286.1,155.6 L286.7,155.2 L287.2,154.8 L287.8,154.3 L288.4,153.9 L289.0,153.7 L289.5,153.4 L290.1,153.2 L290.7,153.0 L291.4,153.3 L292.0,153.6 L292.7,153.8 L293.4,154.1 L293.8,155.0 L294.1,155.8 L294.3,156.6 L294.5,157.5 L294.7,158.2 L294.9,158.9 L295.0,159.6 L295.1,160.3 L295.3,161.0 L295.4,161.6 L295.6,162.2 L295.7,162.8 L295.8,163.4 L296.5,163.5 L297.3,163.5 L298.0,163.2 L298.4,163.4 L298.9,163.6 L299.4,163.8 L299.8,164.0 L300.5,164.3 L301.1,164.8 L301.8,165.2 L302.5,165.6 L303.1,166.0 L303.6,166.5 L304.2,166.9 L304.7,167.4 L305.3,167.8 L305.8,168.4 L306.2,169.0 L306.6,169.8 L307.1,170.7 L307.6,171.5 L308.0,172.3 L308.5,173.1 L308.9,174.0 L309.4,174.7 L309.9,175.3 L310.3,175.9 L310.8,176.5 L311.2,177.1 L311.6,177.7 L312.0,178.3 L312.3,178.8 L312.7,179.4 L313.1,180.0 L313.5,180.6 L313.9,181.2 L314.3,181.8 L314.7,182.4 L315.0,182.9 L315.4,183.5 L315.8,184.1 L316.2,184.7 L316.6,185.3 L317.0,186.0 L317.4,186.6 L317.8,187.3 L318.2,187.9 L318.6,188.6 L319.0,189.2 L319.4,189.8 L319.8,190.3 L320.2,190.9 L320.5,191.5 L320.9,192.1 L321.3,192.6 L321.7,193.2 L322.2,193.8 L322.6,194.4 L323.1,195.0 L323.5,195.6 L324.0,196.2 L324.4,196.7 L324.9,197.2 L325.3,197.8 L325.8,198.5 L326.2,199.2 L326.7,199.8 L327.2,200.5 L327.8,201.2 L328.3,201.9 L328.8,202.5 L329.3,203.0 L329.8,203.4 L330.4,203.7 L330.9,204.1 L331.4,204.5 L332.1,204.7 L332.8,205.0 L333.4,205.2 L334.1,205.4 L334.8,205.5 L335.5,205.6 L336.2,205.7 L336.9,205.8 L337.6,205.5 L338.2,205.1 L338.9,204.7 L339.6,204.4 L339.9,203.6 L340.1,202.8 L340.4,202.0 L340.6,201.2 L340.8,200.4 L341.1,199.7 L341.3,199.1 L341.5,198.4 L342.1,198.7 L342.7,199.0 L343.3,199.3 L343.8,198.9 L344.4,198.5 L344.9,198.2 L345.5,197.8 L346.0,197.4 L346.5,197.0 L347.1,196.5 L347.6,196.1 L348.2,195.6 L348.7,195.2 L349.3,194.7 L349.8,194.3 L350.4,193.8 L350.9,193.4 L351.5,192.9 L352.0,192.4 L352.6,192.0 L353.1,191.5 L353.7,191.1 L354.2,190.6 L354.8,190.1 L355.3,189.7 L355.9,189.2 L356.4,188.8 L357.0,188.3 L357.5,187.8 L358.1,187.3 L358.6,186.7 L359.2,186.0 L359.7,185.3 L360.2,184.6 L360.8,183.9 L361.3,183.2 L361.9,182.6 L362.4,181.9 L362.9,181.3 L363.5,180.6 L364.0,180.0 L364.7,179.6 L365.3,179.2 L365.9,178.9 L366.6,178.5 L367.2,178.2 L367.9,177.8 L368.5,177.5 L369.3,177.2 L370.1,177.0 L370.9,176.7 L371.6,176.4 L372.3,176.2 L373.0,176.3 L373.7,176.4 L374.4,176.5 L375.1,176.9 L375.8,177.4 L376.4,177.8 L377.1,178.2 L377.6,178.9 L378.2,179.7 L378.6,180.3 L379.0,180.7 L379.4,180.8 L379.9,181.0 L380.4,181.1 L380.8,181.3 L381.4,181.2 L381.9,181.4 L382.4,181.6 L383.0,181.9 L383.5,182.1 L384.0,182.3 L384.4,182.5 L384.9,182.7 L385.4,183.0 L385.9,183.3 L386.5,183.6 L387.0,183.8 L387.5,184.1 L388.0,184.4 L388.6,184.7 L389.2,185.0 L389.8,185.4 L390.4,185.7 L391.0,186.0 L391.6,186.3 L392.2,186.7 L392.8,187.1 L393.4,187.4 L394.0,187.8 L394.6,188.6 L395.2,189.4 L395.8,190.2 L396.4,191.1 L397.0,191.9 L397.7,192.3 L398.3,192.8 L398.9,193.2 L399.5,193.7 L400.1,194.2 L400.7,194.8 L401.3,195.3 L401.9,195.8 L404.1,199.2 L404.6,199.8 L405.1,200.4 L405.6,201.0 L406.1,201.6 L406.5,202.2 L407.0,202.8 L407.5,203.4 L408.0,204.0 L408.5,204.6 L409.0,205.2 L409.4,205.8 L409.9,206.4 L410.4,207.0 L410.9,207.6 L411.3,208.1 L411.8,208.7 L412.3,209.3 L412.7,209.9 L413.2,210.5 L413.7,211.0 L414.2,211.5 L414.7,212.1 L415.2,212.6 L415.8,213.1 L416.3,213.6 L416.8,214.2 L417.3,214.7 L417.8,215.2 L418.3,215.7 L418.8,216.2 L419.3,216.7 L419.8,217.2 L420.4,217.7 L420.9,218.2 L421.4,218.7 L421.9,219.2 L422.4,219.7 L422.9,220.2 L423.4,220.8 L423.9,221.3 L424.5,221.8 L425.0,222.3 L425.5,222.9 L426.0,223.4 L426.5,223.9 L427.1,224.4 L427.6,224.9 L428.1,225.5 L428.6,226.0 L429.2,226.5 L429.7,227.0 L430.2,227.5 L430.7,227.9 L431.2,228.4 L431.8,228.9 L432.3,229.4 L432.8,229.8 L433.3,230.3 L433.8,230.7 L434.4,231.2 L434.9,231.6 L435.4,232.1 L435.9,232.5 L436.5,233.0 L437.0,233.4 L437.5,233.8 L438.1,234.3 L438.6,234.7 L439.2,235.2 L439.7,235.6 L440.2,236.1 L440.8,236.5 L441.3,237.0 L441.9,237.4 L442.4,237.9 L442.8,238.4 L443.2,239.0 L443.5,239.5 L443.9,240.1 L444.3,240.6 L444.7,241.2 L445.0,241.7 L445.4,242.3 L445.7,242.8 L446.1,243.4 L446.8,243.8 L447.4,244.2 L448.1,244.2 L448.8,244.3 L449.5,244.1 L450.3,243.9 L451.0,243.7 L451.6,243.6 L452.2,243.6 L452.8,243.5 L453.4,243.4 L454.0,243.5 L454.6,243.5 L455.2,243.6 L455.8,243.8 L456.4,244.1 L457.0,244.3 L457.6,244.8 L458.1,245.3 L458.7,245.8 L459.2,246.3 L459.8,246.8 L460.2,247.3 L460.7,247.8 L461.1,248.3 L461.6,248.8 L462.1,249.3 L462.5,249.8 L462.9,250.4 L463.3,250.9 L463.6,251.5 L464.0,252.1 L464.4,252.6 L464.8,253.2 L465.2,253.8 L465.6,254.5 L466.0,255.2 L466.3,255.8 L466.7,256.5 L467.1,257.1 L467.4,257.8 L467.8,258.4 L468.1,259.1 L468.4,259.8 L468.7,260.5 L469.1,261.1 L469.4,261.8 L469.7,262.5 L469.9,263.1 L470.2,263.8 L470.5,264.5 L470.8,265.1 L471.1,265.8 L471.3,266.4 L471.6,267.1 L471.9,267.8 L472.2,268.6 L472.5,269.3 L472.8,270.0 L473.1,270.8 L473.4,271.5 L473.7,272.1 L473.9,272.8 L474.2,273.4 L474.4,274.1 L474.7,274.7 L474.9,275.4 L475.2,276.0 L475.5,276.7 L475.7,277.4 L476.0,278.1 L476.2,278.8 L476.5,279.4 L476.8,280.1 L477.0,280.8 L477.3,281.5 L477.6,282.2 L477.8,282.9 L478.1,283.6 L478.4,284.4 L478.7,285.1 L478.9,285.8 L479.2,286.5 L479.4,287.2 L479.6,288.0 L479.7,288.7 L479.9,289.4 L480.1,290.1 L480.3,290.9 L480.5,291.6 L480.6,292.3 L480.8,293.1 L481.0,293.8 L481.2,294.6 L481.4,295.3 L481.7,296.1 L481.9,296.8 L482.1,297.6 L482.4,298.3 L482.6,299.1 L482.8,299.8 L483.0,300.6 L483.2,301.3 L483.4,302.1 L483.6,302.8 L483.9,303.6 L484.1,304.3 L484.3,305.1 L484.5,305.8 L484.7,306.6 L484.9,307.3 L485.0,308.0 L485.2,308.8 L485.4,309.5 L485.6,310.2 L485.7,310.9 L485.9,311.6 L486.1,312.3 L486.3,313.1 L486.4,313.8 L486.6,314.5 L486.8,315.2 L486.9,315.9 L487.1,316.7 L487.3,317.4 L487.4,318.1 L487.6,318.8 L487.7,319.5 L487.9,320.2 L488.1,321.0 L488.2,321.7 L488.4,322.4 L488.6,323.2 L488.7,323.9 L488.9,324.7 L489.0,325.4 L489.2,326.2 L489.4,327.0 L489.5,327.7 L489.7,328.5 L489.8,329.2 L490.0,330.0 L490.2,330.8 L490.3,331.5 L490.5,332.2 L490.7,333.0 L490.9,333.8 L491.0,334.5 L491.2,335.2 L491.4,336.0 L491.5,336.8 L491.7,337.5 L491.9,338.2 L492.1,338.9 L492.3,339.7 L492.5,340.4 L492.8,341.1 L493.0,341.8 L493.2,342.6 L493.4,343.3 L493.6,344.0 L493.9,344.7 L494.1,345.4 L494.4,346.2 L494.6,346.9 L494.9,347.6 L495.1,348.4 L495.4,349.1 L495.6,349.8 L495.9,350.4 L496.2,351.1 L496.4,351.8 L496.7,352.4 L497.0,353.1 L497.2,353.7 L497.5,354.4 L497.8,355.0"/>
<path stroke="#37AD6B" d="M111.1,301.8 L111.7,301.6 L112.3,301.4 L112.9,301.2 L113.5,301.0 L114.1,300.7 L114.7,300.4 L115.2,300.1 L115.8,299.8 L116.4,299.5 L117.1,299.2 L117.7,298.8 L118.3,298.5 L119.0,298.1 L119.5,297.7 L119.9,297.2 L120.4,296.8 L120.8,296.3 L121.3,295.8 L121.6,295.2 L122.0,294.5 L122.3,293.9 L122.7,293.2 L123.0,292.6 L123.3,291.9 L123.6,291.3 L123.9,290.6 L124.2,290.0 L124.5,289.3 L124.9,288.6 L125.2,287.9 L125.6,287.2 L125.9,286.5 L126.3,285.8 L126.6,285.2 L127.0,284.5 L127.4,283.9 L127.7,283.2 L128.1,282.6 L128.4,281.9 L128.8,281.3 L129.1,280.6 L129.5,280.0 L129.8,279.3 L130.2,278.6 L130.6,278.0 L130.9,277.3 L131.2,276.6 L131.6,275.9 L131.9,275.3 L132.3,274.7 L132.6,274.1 L132.9,273.4 L133.3,272.8 L133.6,272.1 L134.0,271.7 L134.4,271.2 L134.8,271.0 L135.2,270.8 L135.6,271.1 L136.0,271.4 L136.4,271.4 L136.8,271.3 L137.2,270.7 L137.6,270.0 L138.1,269.8 L138.5,269.6 L138.9,270.1 L139.3,270.6 L139.7,271.0 L140.1,271.4 L140.7,272.0 L141.2,272.6 L141.8,273.1 L142.2,273.6 L142.6,274.2 L143.1,274.7 L143.5,275.3 L143.8,275.9 L144.2,276.4 L144.6,277.0 L144.9,277.6 L145.3,278.2 L145.6,278.8 L146.0,279.5 L146.3,280.2 L146.7,280.8 L147.1,281.5 L147.4,282.3 L147.8,283.0 L148.0,283.7 L148.3,284.4 L148.6,285.1 L148.9,285.8 L149.2,286.4 L149.4,287.1 L149.7,287.8 L149.9,288.5 L150.2,289.2 L150.4,290.0 L150.7,290.8 L150.9,291.5 L151.2,292.2 L151.4,293.0 L151.7,293.8 L151.9,294.5 L152.1,295.2 L152.3,295.9 L152.5,296.7 L152.7,297.4 L152.9,298.1 L153.1,298.9 L153.3,299.6 L153.5,300.3 L153.7,301.0 L153.8,301.8 L154.0,302.5 L154.2,303.2 L154.4,304.0 L154.5,304.7 L154.7,305.5 L154.9,306.2 L155.0,306.9 L155.2,307.7 L155.4,308.4 L155.6,309.1 L155.7,309.9 L155.9,310.6 L156.1,311.4 L156.3,312.2 L156.4,312.9 L156.6,313.7 L156.8,314.5 L157.0,315.3 L157.2,316.1 L157.3,316.8 L157.5,317.6 L157.7,318.4 L157.9,319.2 L158.0,319.9 L158.2,320.7 L158.4,321.5 L158.6,322.2 L158.7,323.0 L158.9,323.7 L159.0,324.4 L159.2,325.2 L159.4,325.9 L159.5,326.6 L159.7,327.3 L159.9,328.1 L160.0,328.8 L160.2,329.5 L160.3,330.3 L160.5,331.0 L160.7,331.8 L160.9,332.5 L161.1,333.3 L161.2,334.1 L161.4,334.8 L161.6,335.6 L161.8,336.3 L162.0,337.1 L162.2,337.9 L162.3,338.6 L162.5,339.4 L162.7,340.2 L162.9,340.9 L163.1,341.7 L163.3,342.4 L163.4,343.2 L163.6,344.0 L163.8,344.7 L164.0,345.5 L164.2,346.3 L164.4,347.0 L164.6,347.8 L164.8,348.5 L165.0,349.3 L165.2,350.1 L165.4,350.8 L165.6,351.6 L165.9,352.3 L166.1,353.1 L166.3,353.8 L166.5,354.6 L166.7,355.4 L166.9,356.1 L167.1,356.9 L167.3,357.6 L167.5,358.4 L167.8,359.1 L168.0,359.8 L168.3,360.5 L168.6,361.2 L168.9,361.9 L169.1,362.5 L169.4,363.2 L169.7,363.9 L170.0,364.6 L170.2,365.3 L170.5,366.0 L170.9,366.7 L171.2,367.4 L171.6,368.1 L172.0,368.8 L172.4,369.5 L172.7,370.2 L173.1,370.9 L172.6,371.3 L173.4,371.3 L174.2,371.3 L175.0,371.3 L175.8,371.3 L176.6,371.3 L177.4,371.3 L178.2,371.3 L179.0,371.3 L179.8,371.3"/>
<path stroke="#B177DE" stroke-width="2.3" d="M111.1,299.1 L111.7,298.7 L112.4,298.4 L113.0,298.0 L113.6,297.5 L114.1,297.1 L114.7,296.6 L115.1,296.1 L115.6,295.6 L116.0,295.1 L116.4,294.6 L116.8,293.9 L117.1,293.2 L117.5,292.6 L117.8,291.9 L118.2,291.2 L118.5,290.5 L118.8,289.9 L119.2,289.3 L119.5,288.7 L119.9,288.1 L120.2,287.4 L120.6,286.8 L121.0,286.2 L121.3,285.6 L121.8,285.1 L122.2,284.6 L122.7,284.2 L123.1,283.7 L123.6,283.2 L124.0,282.6 L124.3,281.9 L124.7,281.3 L125.1,280.7 L125.5,280.1 L125.8,279.4 L126.2,278.8 L126.5,278.1 L126.9,277.4 L127.2,276.8 L127.5,276.1 L127.8,275.4 L128.2,274.8 L128.5,274.1 L128.8,273.4 L129.1,272.7 L129.5,271.9 L129.8,271.2 L130.1,270.5 L130.4,269.8 L130.8,269.0 L131.1,268.3 L131.4,267.6 L131.7,266.8 L132.0,266.1 L132.3,265.1 L132.6,264.2 L132.9,263.2 L133.2,262.2 L133.5,261.2 L133.8,260.3 L134.1,259.3 L134.4,258.3 L134.7,257.3 L135.0,256.4 L135.2,255.5 L135.4,254.6 L135.6,253.8 L135.9,252.9 L136.1,252.0 L136.3,251.2 L136.5,250.3 L136.7,249.4 L136.9,248.5 L137.1,247.6 L137.3,246.8 L137.5,245.9 L137.7,245.0 L137.9,244.1 L138.2,243.3 L138.4,242.6 L138.7,242.0 L138.9,241.3 L139.2,240.6 L139.4,239.9 L139.7,239.3 L140.1,238.7 L140.4,238.0 L140.8,237.4 L141.1,236.8 L141.5,236.3 L141.8,235.8 L142.2,235.3 L142.6,234.8 L143.0,234.5 L143.4,234.1 L143.9,233.6 L144.3,233.2 L144.8,232.8 L145.2,232.5 L145.7,232.1 L146.2,231.7 L146.9,231.3 L147.5,231.0 L148.2,230.6 L148.8,230.4 L149.4,230.2 L150.0,230.0 L150.7,229.9 L151.3,229.7 L152.0,229.6 L152.7,229.6 L153.3,229.5 L154.0,229.5 L154.7,229.5 L155.3,229.5 L155.9,229.5 L156.6,229.6 L157.2,229.6 L157.9,229.6 L158.6,229.6 L159.3,229.6 L160.0,229.6 L160.9,229.5 L161.8,229.4 L162.7,229.3 L163.4,229.0 L164.2,228.7 L165.0,228.4 L165.6,228.4 L166.1,228.5 L166.7,228.6 L167.2,228.6 L167.8,228.4 L168.4,228.2 L169.0,228.0 L169.5,227.8 L169.9,227.5 L170.2,227.2 L170.6,226.9 L170.9,226.6 L171.3,226.0 L171.6,225.4 L172.0,224.7 L172.3,224.1 L172.6,223.4 L173.0,222.8 L173.3,222.1 L173.6,221.4 L173.9,220.7 L174.2,220.0 L174.6,219.3 L174.9,218.7 L175.2,218.0 L175.5,217.4 L175.8,216.7 L176.1,216.1 L176.3,215.4 L176.6,214.8 L176.9,214.1 L177.2,213.5 L177.5,212.9 L177.7,212.2 L178.0,211.6 L178.3,210.9 L178.6,210.3 L178.8,209.6 L179.1,209.0 L179.3,208.4 L179.6,207.7 L179.8,207.1 L180.1,206.4 L180.3,205.8 L180.6,205.1 L180.8,204.5 L181.1,203.8 L181.3,203.0 L181.6,202.2 L181.8,201.5 L182.1,200.8 L182.3,200.0 L182.6,199.2 L182.8,198.5 L183.1,197.8 L183.4,197.0 L183.6,196.2 L183.8,195.5 L184.1,194.8 L184.3,194.0 L184.5,193.2 L184.8,192.5 L185.0,191.8 L185.2,191.0 L185.4,190.3 L185.7,189.5 L185.9,188.8 L186.1,188.0 L186.3,187.3 L186.6,186.5 L186.8,185.8 L187.0,185.0 L187.2,184.3 L187.4,183.6 L187.6,182.8 L187.9,182.1 L188.1,181.3 L188.3,180.6 L188.5,179.8 L188.7,179.1 L188.9,178.3 L189.1,177.6 L189.4,176.8 L189.6,176.1 L189.8,175.3 L190.0,174.6 L190.2,173.8 L190.4,173.1 L190.7,172.3 L190.9,171.6 L191.1,170.8 L191.3,170.1 L191.6,169.3 L191.8,168.6 L192.0,167.8 L192.2,167.1 L192.5,166.3 L192.7,165.6 L193.0,164.9 L193.2,164.1 L193.5,163.4 L193.7,162.6 L194.0,161.9 L194.2,161.2 L194.5,160.4 L194.7,159.7 L195.0,159.0 L195.3,158.2 L195.6,157.5 L195.8,156.8 L196.1,156.0 L196.4,155.3 L196.7,154.5 L197.0,153.8 L197.3,153.2 L197.6,152.5 L197.8,151.8 L198.1,151.2 L198.4,150.6 L198.6,149.9 L198.9,149.2 L199.2,148.6 L199.6,148.0 L200.0,147.3 L200.3,146.7 L200.7,146.1 L201.1,145.4 L201.5,144.8 L201.9,144.3 L202.3,143.8 L202.8,143.3 L203.2,142.8 L203.6,142.3 L204.2,141.9 L204.7,141.5 L205.3,141.1 L205.8,140.7 L206.4,140.3 L207.0,140.0 L207.6,139.6 L208.2,139.3 L208.4,139.8 L208.7,140.3 L208.9,140.8 L209.0,141.5 L209.2,142.2 L209.3,142.8 L209.4,143.5 L209.5,144.2 L209.5,145.0 L209.6,145.8 L209.7,146.5 L209.7,147.2 L209.8,148.0 L209.9,148.8 L210.0,149.5 L210.1,150.3 L210.1,151.1 L210.2,151.8 L210.3,152.6 L210.7,152.4 L211.0,152.2 L211.4,151.5 L211.8,150.9 L212.2,150.2 L212.8,149.7 L213.4,149.2 L213.6,149.8 L213.8,150.3 L213.9,150.9 L214.1,151.5 L214.7,151.9 L215.4,152.4 L216.0,152.8 L216.3,153.4 L216.7,154.1 L217.1,154.7 L217.4,155.3 L217.8,156.0 L218.1,156.6 L218.4,157.3 L218.7,157.9 L219.0,158.6 L219.3,159.2 L219.6,159.9 L219.9,160.5 L220.2,161.2 L220.5,161.9 L220.8,162.7 L221.1,163.4 L221.4,164.1 L221.7,164.9 L222.0,165.6 L222.3,166.3 L222.6,167.0 L222.8,167.7 L223.1,168.4 L223.4,169.0 L223.7,169.7 L223.9,170.4 L224.2,171.1 L224.5,171.8 L224.8,172.5 L225.1,173.2 L225.3,173.9 L225.6,174.6 L225.9,175.4 L226.2,176.1 L226.4,176.8 L226.7,177.5 L227.0,178.2 L227.3,178.9 L227.5,179.6 L227.8,180.3 L228.0,181.0 L228.3,181.8 L228.5,182.5 L228.8,183.2 L229.0,183.9 L229.3,184.6 L229.6,185.3 L229.8,185.9 L230.1,186.6 L230.4,187.3 L230.6,187.9 L230.9,188.6 L231.2,189.3 L231.4,189.9 L231.7,190.6 L232.0,191.3 L232.2,192.1 L232.5,192.8 L232.8,193.5 L233.1,194.2 L233.3,194.9 L233.6,195.7 L233.9,196.4 L234.2,197.1 L234.5,197.8 L234.7,198.4 L235.0,199.1 L235.3,199.8 L235.6,200.5 L235.9,201.2 L236.2,202.0 L236.5,202.7 L236.8,203.4 L237.2,204.0 L237.6,204.5 L238.0,205.1 L238.4,205.6 L238.8,206.2 L239.2,206.7 L239.6,207.3 L240.1,207.8 L240.5,208.3 L241.0,208.9 L241.5,209.4 L241.9,209.9 L242.4,210.4 L243.0,210.9 L243.6,211.4 L244.1,211.8 L244.7,212.3 L245.3,212.8 L245.8,213.2 L246.2,213.6 L246.7,214.0 L247.2,214.4 L247.7,214.7 L248.2,214.9 L248.7,215.2 L249.3,215.1 L249.9,214.9 L250.5,214.8 L250.8,214.3 L251.0,213.9 L251.3,213.4 L251.7,212.8 L252.0,212.1 L252.7,211.8 L253.5,211.5 L254.2,211.2 L254.6,210.5 L255.1,209.9 L255.5,209.2 L256.0,208.6 L256.4,208.0 L256.9,207.3 L257.3,206.7 L257.7,206.1 L258.1,205.5 L258.5,204.8 L258.9,204.2 L259.3,203.6 L259.7,203.0 L260.1,202.4 L260.5,201.8 L260.9,201.2 L261.2,200.7 L261.6,200.1 L262.0,199.5 L262.4,198.9 L262.8,198.3 L263.2,197.7 L263.6,197.1 L263.9,196.5 L264.3,195.9 L264.7,195.3 L265.1,194.7 L265.4,194.0 L265.8,193.3 L266.1,192.6 L266.5,191.8 L266.8,191.1 L267.1,190.4 L267.5,189.7 L267.8,189.0 L268.1,188.3 L268.4,187.6 L268.7,187.0 L269.0,186.3 L269.4,185.6 L269.7,184.9 L270.0,184.3 L270.3,183.6 L270.6,182.9 L270.9,182.2 L271.3,181.6 L271.6,180.9 L272.0,180.3 L272.3,179.7 L272.6,179.0 L273.0,178.3 L273.3,177.7 L273.7,177.1 L274.0,176.5 L274.4,175.9 L274.7,175.2 L275.1,174.6 L275.4,174.0 L275.8,173.4 L276.1,172.8 L276.4,172.2 L276.8,171.5 L277.1,170.9 L277.5,170.2 L277.8,169.6 L278.1,169.0 L278.5,168.3 L278.8,167.7 L279.2,167.1 L279.5,166.5 L279.9,165.9 L280.2,165.2 L280.6,164.6 L280.9,164.0 L281.2,163.4 L281.6,162.8 L282.0,162.2 L282.5,161.6 L282.9,161.0 L283.4,160.4 L283.8,159.8 L284.3,159.3 L284.7,158.8 L285.2,158.3 L285.6,157.8 L286.1,157.3 L286.7,156.9 L287.2,156.4 L287.8,156.0 L288.4,155.6 L289.0,155.3 L289.5,155.1 L290.1,154.8 L290.7,154.6 L291.4,154.6 L292.0,154.6 L292.7,154.6 L293.4,154.6 L293.8,155.3 L294.1,156.0 L294.3,156.7 L294.5,157.5 L294.7,158.2 L294.9,158.9 L295.0,159.6 L295.1,160.3 L295.3,161.0 L295.4,161.6 L295.6,162.2 L295.7,162.8 L295.8,163.4 L296.5,163.5 L297.3,163.6 L298.0,163.7 L298.4,164.1 L298.9,164.6 L299.4,165.1 L299.8,165.5 L300.5,165.9 L301.1,166.3 L301.8,166.8 L302.5,167.2 L303.1,167.6 L303.6,168.1 L304.2,168.5 L304.7,169.0 L305.3,169.4 L305.8,170.0 L306.2,170.5 L306.6,171.1 L307.1,171.7 L307.6,172.2 L308.0,172.8 L308.5,173.4 L308.9,174.0 L309.4,174.7 L309.9,175.3 L310.3,175.9 L310.8,176.5 L311.2,177.1 L311.6,177.7 L312.0,178.3 L312.3,178.8 L312.7,179.4 L313.1,180.0 L313.5,180.6 L313.9,181.2 L314.3,181.8 L314.7,182.4 L315.0,182.9 L315.4,183.5 L315.8,184.1 L316.2,184.7 L316.6,185.3 L317.0,186.0 L317.4,186.6 L317.8,187.3 L318.2,187.9 L318.6,188.6 L319.0,189.2 L319.4,189.8 L319.8,190.3 L320.2,190.9 L320.5,191.5 L320.9,192.1 L321.3,192.6 L321.7,193.2 L322.2,193.8 L322.6,194.4 L323.1,195.0 L323.5,195.6 L324.0,196.2 L324.4,196.7 L324.9,197.2 L325.3,197.7 L325.8,198.2 L326.2,198.7 L326.7,199.2 L327.2,199.6 L327.8,200.1 L328.3,200.5 L328.8,201.0 L329.3,201.4 L329.8,201.8 L330.4,202.1 L330.9,202.5 L331.4,202.9 L332.1,203.1 L332.8,203.4 L333.4,203.6 L334.1,203.8 L334.8,203.9 L335.5,204.0 L336.2,204.1 L336.9,204.2 L337.6,204.1 L338.2,204.0 L338.9,203.9 L339.6,203.8 L339.9,203.1 L340.1,202.4 L340.4,201.7 L340.6,201.0 L340.8,200.3 L341.1,199.7 L341.3,199.1 L341.5,198.4 L342.1,198.7 L342.7,199.0 L343.3,199.3 L343.8,198.9 L344.4,198.5 L344.9,198.2 L345.5,197.8 L346.0,197.4 L346.5,197.0 L347.1,196.5 L347.6,196.1 L348.2,195.6 L348.7,195.2 L349.3,194.7 L349.8,194.3 L350.4,193.8 L350.9,193.4 L351.5,192.9 L352.0,192.4 L352.6,192.0 L353.1,191.5 L353.7,191.1 L354.2,190.6 L354.8,190.1 L355.3,189.7 L355.9,189.2 L356.4,188.8 L357.0,188.3 L357.5,187.8 L358.1,187.4 L358.6,186.9 L359.2,186.5 L359.7,186.0 L360.2,185.6 L360.8,185.1 L361.3,184.7 L361.9,184.2 L362.4,183.8 L362.9,183.4 L363.5,183.0 L364.0,182.6 L364.7,182.2 L365.3,181.8 L365.9,181.5 L366.6,181.1 L367.2,180.8 L367.9,180.4 L368.5,180.1 L369.3,179.8 L370.1,179.6 L370.9,179.3 L371.6,179.0 L372.3,178.8 L373.0,178.7 L373.7,178.5 L374.4,178.3 L375.1,178.4 L375.8,178.6 L376.4,178.7 L377.1,178.8 L377.6,179.3 L378.2,179.8 L378.6,180.4 L379.0,181.0 L379.4,181.4 L379.9,181.9 L380.4,182.4 L380.8,182.8 L381.4,183.1 L381.9,183.4 L382.4,183.6 L383.0,183.9 L383.5,184.1 L384.0,184.3 L384.4,184.5 L384.9,184.7 L385.4,185.0 L385.9,185.3 L386.5,185.6 L387.0,185.8 L387.5,186.1 L388.0,186.4 L388.6,186.7 L389.2,187.0 L389.8,187.4 L390.4,187.7 L391.0,188.0 L391.6,188.3 L392.2,188.7 L392.8,189.1 L393.4,189.4 L394.0,189.8 L394.6,190.2 L395.2,190.6 L395.8,191.0 L396.4,191.5 L397.0,191.9 L397.7,192.3 L398.3,192.8 L398.9,193.2 L399.5,193.7 L400.1,194.2 L400.7,194.8 L401.3,195.3 L401.9,195.8 L402.5,196.3 L403.0,196.8 L403.6,197.3 L404.1,197.8 L404.6,198.3 L405.1,198.8 L405.7,199.3 L406.2,199.8 L406.7,200.3 L407.2,200.9 L407.7,201.4 L408.2,202.0 L408.7,202.5 L409.2,203.1 L409.7,203.6 L410.2,204.2 L410.7,204.7 L411.2,205.3 L411.7,205.8 L412.2,206.4 L412.7,206.9 L413.2,207.5 L413.8,208.1 L414.4,208.6 L414.9,209.2 L415.5,209.7 L416.1,210.2 L416.6,210.8 L417.2,211.3 L417.8,211.9 L418.4,212.4 L418.9,212.9 L419.5,213.4 L420.1,213.9 L420.7,214.5 L421.2,215.0 L421.8,215.5 L422.4,216.0 L423.0,216.5 L423.5,216.9 L424.1,217.4 L424.7,217.8 L425.3,218.3 L425.9,218.8 L426.4,219.2 L427.0,219.6 L427.6,220.0 L428.1,220.4 L428.7,220.8 L429.2,221.2 L429.8,221.6 L430.4,222.0 L430.9,222.4 L431.5,222.8 L432.1,223.1 L432.6,223.5 L433.2,223.9 L433.8,224.3 L434.3,224.7 L434.9,225.1 L435.4,225.5 L436.0,225.9 L436.6,226.4 L437.1,226.8 L437.7,227.3 L438.3,227.8 L438.9,228.2 L439.5,228.7 L440.0,229.1 L440.7,229.6 L441.2,230.1 L441.8,230.6 L442.3,231.1 L442.9,231.6 L443.4,232.1 L444.0,232.6 L444.6,233.1 L445.1,233.6 L445.7,234.2 L446.3,234.7 L446.9,235.3 L447.4,235.8 L448.0,236.4 L448.6,236.9 L449.1,237.4 L449.6,237.9 L450.1,238.4 L450.6,239.0 L451.1,239.5 L451.6,240.0 L452.1,240.6 L452.6,241.1 L453.1,241.7 L453.6,242.2 L454.1,242.8 L454.6,243.3 L455.0,243.9 L455.4,244.6 L455.9,245.2 L456.3,245.8 L456.7,246.4 L457.1,247.1 L457.5,247.7 L457.9,248.4 L458.3,249.0 L458.7,249.7 L459.0,250.4 L459.4,251.1 L459.8,251.7 L460.2,252.4 L460.5,253.0 L460.9,253.7 L461.2,254.3 L461.6,254.9 L461.9,255.6 L462.2,256.2 L462.6,256.9 L462.9,257.6 L463.3,258.3 L463.7,259.0 L464.1,259.7 L464.4,260.5 L464.8,261.2 L465.2,261.9 L465.6,262.6 L466.0,263.3 L466.3,264.0 L466.7,264.6 L467.0,265.3 L467.4,266.0 L467.7,266.6 L468.1,267.3 L468.4,267.9 L468.8,268.5 L469.1,269.2 L469.5,269.8 L469.8,270.5 L470.2,271.1 L470.5,271.7 L470.9,272.4 L471.2,273.2 L471.6,273.8 L471.9,274.5 L472.3,275.2 L472.7,275.9 L473.0,276.6 L473.4,277.2 L473.7,277.9 L474.1,278.6 L474.4,279.3 L474.8,279.9 L475.1,280.6 L475.4,281.3 L475.8,282.0 L476.1,282.6 L476.5,283.3 L476.8,284.0 L477.1,284.7 L477.5,285.3 L477.8,286.0 L478.1,286.6 L478.4,287.3 L478.7,287.9 L478.9,288.6 L479.2,289.2 L479.5,289.9 L479.8,290.6 L480.1,291.2 L480.4,291.9 L480.7,292.6 L481.0,293.3 L481.3,294.0 L481.5,294.7 L481.8,295.4 L482.1,296.1 L482.4,296.8 L482.6,297.5 L482.9,298.2 L483.1,298.9 L483.3,299.6 L483.6,300.3 L483.8,301.0 L484.0,301.7 L484.2,302.4 L484.5,303.1 L484.7,303.8 L484.9,304.5 L485.1,305.3 L485.4,306.0 L485.6,306.7 L485.8,307.5 L486.0,308.2 L486.2,308.9 L486.5,309.6 L486.7,310.4 L486.9,311.1 L487.1,311.8 L487.3,312.6 L487.5,313.3 L487.7,314.1 L487.9,314.8 L488.0,315.5 L488.2,316.3 L488.4,317.0 L488.6,317.8 L488.8,318.5 L489.0,319.2 L489.2,319.9 L489.3,320.7 L489.5,321.4 L489.7,322.1 L489.9,322.8 L490.1,323.5 L490.2,324.3 L490.4,325.0 L490.6,325.7 L490.8,326.4 L490.9,327.1 L491.1,327.8 L491.3,328.5 L491.5,329.2 L491.7,329.9 L491.8,330.6 L492.0,331.3 L492.2,332.0 L492.4,332.7 L492.6,333.4 L492.8,334.1 L492.9,334.9 L493.1,335.6 L493.3,336.3 L493.5,337.0 L493.7,337.7 L494.0,338.4 L494.2,339.1 L494.4,339.9 L494.6,340.6 L494.9,341.3 L495.1,342.0 L495.4,342.7 L495.7,343.4 L496.0,344.1 L496.3,344.9 L496.6,345.6 L496.9,346.3 L497.2,347.0 L497.5,347.6 L497.8,348.3 L498.2,348.9 L498.5,349.6 L498.8,350.2 L499.1,350.9"/>
<path stroke="#CC9900" d="M111.1,302.7 L111.7,302.5 L112.3,302.3 L112.9,302.1 L113.5,301.9 L114.1,301.6 L114.7,301.2 L115.2,300.8 L115.8,300.4 L116.4,300.1 L117.1,299.6 L117.7,299.2 L118.3,298.7 L119.0,298.2 L119.5,297.7 L119.9,297.2 L120.4,296.8 L120.8,296.3 L121.3,295.8 L121.6,295.2 L122.0,294.5 L122.3,293.9 L122.7,293.2 L123.0,292.6 L123.3,291.9 L123.6,291.3 L123.9,290.6 L124.2,290.0 L124.5,289.3 L124.9,288.6 L125.2,287.9 L125.6,287.2 L125.9,286.5 L126.3,285.9 L126.6,285.3 L127.0,284.6 L127.4,284.0 L127.7,283.4 L128.1,282.8 L128.4,282.2 L128.8,281.6 L129.1,281.0 L129.5,280.4 L129.8,279.7 L130.2,279.1 L130.6,278.5 L130.9,277.9 L131.2,277.2 L131.6,276.6 L131.9,276.0 L132.3,275.4 L132.6,274.8 L132.9,274.1 L133.3,273.4 L133.6,272.8 L134.0,272.4 L134.4,271.9 L134.8,271.7 L135.2,271.5 L135.6,271.8 L136.0,272.1 L136.4,272.1 L136.8,272.0 L137.2,271.4 L137.6,270.7 L138.1,270.5 L138.5,270.3 L138.9,270.8 L139.3,271.3 L139.7,271.7 L140.1,272.1 L140.5,272.7 L140.9,273.3 L141.3,273.8 L141.7,274.3 L142.0,274.9 L142.3,275.4 L142.6,275.9 L142.9,276.5 L143.1,277.0 L143.4,277.6 L143.7,278.2 L143.9,278.7 L144.2,279.3 L144.5,280.0 L144.7,280.6 L145.0,281.3 L145.2,282.0 L145.5,282.6 L145.8,283.3 L146.0,283.9 L146.2,284.6 L146.4,285.2 L146.6,285.8 L146.8,286.5 L147.1,287.1 L147.3,287.8 L147.6,288.5 L147.8,289.2 L148.1,290.0 L148.3,290.8 L148.6,291.5 L148.8,292.2 L149.1,293.0 L149.3,293.8 L149.6,294.5 L149.8,295.2 L150.0,295.9 L150.2,296.7 L150.4,297.4 L150.6,298.1 L150.8,298.9 L151.0,299.6 L151.2,300.3 L151.4,301.0 L151.5,301.8 L151.7,302.5 L151.9,303.2 L152.1,304.0 L152.2,304.7 L152.4,305.5 L152.6,306.2 L152.7,306.9 L152.9,307.7 L153.1,308.4 L153.3,309.1 L153.4,309.9 L153.6,310.6 L153.8,311.4 L154.0,312.2 L154.1,312.9 L154.3,313.7 L154.5,314.5 L154.7,315.3 L154.8,316.1 L155.0,316.8 L155.2,317.6 L155.4,318.4 L155.6,319.2 L155.7,319.9 L155.9,320.7 L156.1,321.5 L156.3,322.2 L156.4,323.0 L156.6,323.7 L156.7,324.4 L156.9,325.2 L157.1,325.9 L157.2,326.6 L157.4,327.3 L157.6,328.1 L157.7,328.8 L157.9,329.5 L158.0,330.3 L158.2,331.0 L158.4,331.8 L158.6,332.5 L158.8,333.3 L158.9,334.1 L159.1,334.8 L159.3,335.6 L159.5,336.3 L159.7,337.1 L159.9,337.9 L160.0,338.6 L160.2,339.4 L160.4,340.2 L160.6,340.9 L160.8,341.7 L161.0,342.4 L161.1,343.2 L161.3,344.0 L161.5,344.7 L161.7,345.5 L161.9,346.3 L162.1,347.0 L162.3,347.8 L162.5,348.5 L162.7,349.3 L162.9,350.1 L163.1,350.8 L163.3,351.6 L163.6,352.3 L163.8,353.1 L164.0,353.8 L164.2,354.6 L164.4,355.4 L164.6,356.1 L164.8,356.9 L165.0,357.6 L165.2,358.4 L165.5,359.1 L165.7,359.8 L166.0,360.5 L166.3,361.2 L166.6,361.9 L166.8,362.5 L167.1,363.2 L167.4,363.9 L167.7,364.6 L167.9,365.3 L168.2,366.0 L168.6,366.7 L168.9,367.4 L169.3,368.1 L169.7,368.8 L170.1,369.5 L170.4,370.2 L170.8,370.9 L172.6,371.3 L173.4,371.3 L174.2,371.3 L175.0,371.3 L175.8,371.3 L176.6,371.3 L177.4,371.3 L178.2,371.3 L179.0,371.3 L179.8,371.3"/>
<path stroke="#00CBCC" stroke-width="2.3" d="M111.1,299.1 L111.7,298.7 L112.4,298.4 L113.0,298.0 L113.6,297.5 L114.1,297.1 L114.7,296.6 L115.1,296.1 L115.6,295.6 L116.0,295.1 L116.4,294.6 L116.8,293.9 L117.1,293.2 L117.5,292.6 L117.8,291.9 L118.2,291.2 L118.5,290.5 L118.8,289.9 L119.2,289.3 L119.5,288.7 L119.9,288.1 L120.2,287.4 L120.6,286.8 L121.0,286.2 L121.3,285.6 L121.8,285.1 L122.2,284.6 L122.7,284.2 L123.1,283.7 L123.6,283.2 L124.0,282.6 L124.3,281.9 L124.7,281.3 L125.1,280.7 L125.5,280.1 L125.8,279.4 L126.2,278.8 L126.5,278.1 L126.9,277.4 L127.2,276.8 L127.5,276.1 L127.8,275.4 L128.2,274.8 L128.5,274.1 L128.8,273.4 L129.1,272.7 L129.5,271.9 L129.8,271.2 L130.1,270.5 L130.4,269.8 L130.8,269.0 L131.1,268.3 L131.4,267.6 L131.7,266.8 L132.0,266.1 L132.3,265.4 L132.6,264.7 L132.9,263.9 L133.2,263.2 L133.5,262.5 L133.8,261.7 L134.1,261.0 L134.4,260.3 L134.7,259.5 L135.0,258.8 L135.2,258.1 L135.4,257.4 L135.6,256.7 L135.9,256.1 L136.1,255.4 L136.3,254.7 L136.5,254.0 L136.7,253.3 L136.9,252.5 L137.1,251.8 L137.3,251.1 L137.5,250.4 L137.7,249.6 L137.9,248.9 L138.2,248.2 L138.4,247.5 L138.7,246.9 L138.9,246.2 L139.2,245.5 L139.4,244.8 L139.7,244.2 L140.1,243.6 L140.4,242.9 L140.8,242.3 L141.1,241.7 L141.5,241.2 L141.8,240.7 L142.2,240.2 L142.6,239.7 L143.0,239.4 L143.4,239.0 L143.9,238.5 L144.3,238.1 L144.8,237.7 L145.2,237.4 L145.7,237.0 L146.2,236.6 L146.9,236.2 L147.5,235.9 L148.2,235.5 L148.8,235.3 L149.4,235.1 L150.0,234.9 L150.7,234.8 L151.3,234.6 L152.0,234.5 L152.7,234.5 L153.3,234.4 L154.0,234.4 L154.7,234.4 L155.3,234.4 L155.9,234.4 L156.6,234.5 L157.2,234.5 L157.9,234.5 L158.6,234.5 L159.3,234.5 L160.0,234.5 L160.9,234.4 L161.8,234.3 L162.7,234.2 L163.4,233.9 L164.2,233.6 L165.0,233.3 L165.6,232.9 L166.1,232.5 L166.7,232.1 L167.2,231.7 L167.8,231.0 L168.4,230.4 L169.0,229.7 L169.5,229.0 L169.9,228.4 L170.2,227.8 L170.6,227.2 L170.9,226.6 L171.3,226.0 L171.6,225.4 L172.0,224.7 L172.3,224.1 L172.6,223.4 L173.0,222.8 L173.3,222.1 L173.6,221.4 L173.9,220.7 L174.2,220.0 L174.6,219.3 L174.9,218.7 L175.2,218.0 L175.5,217.4 L175.8,216.7 L176.1,216.1 L176.3,215.4 L176.6,214.8 L176.9,214.1 L177.2,213.5 L177.5,212.9 L177.7,212.2 L178.0,211.6 L178.3,210.9 L178.6,210.3 L178.8,209.6 L179.1,209.0 L179.3,208.4 L179.6,207.7 L179.8,207.1 L180.1,206.4 L180.3,205.8 L180.6,205.1 L180.8,204.5 L181.1,203.8 L181.3,203.0 L181.6,202.2 L181.8,201.5 L182.1,200.8 L182.3,200.0 L182.6,199.2 L182.8,198.5 L183.1,197.8 L183.4,197.0 L183.6,196.2 L183.8,195.5 L184.1,194.8 L184.3,194.0 L184.5,193.2 L184.8,192.5 L185.0,191.8 L185.2,191.0 L185.4,190.3 L185.7,189.5 L185.9,188.8 L186.1,188.0 L186.3,187.3 L186.6,186.5 L186.8,185.8 L187.0,185.0 L187.2,184.3 L187.4,183.6 L187.6,182.8 L187.9,182.1 L188.1,181.3 L188.3,180.6 L188.5,179.8 L188.7,179.1 L188.9,178.3 L189.1,177.6 L189.4,176.8 L189.6,176.1 L189.8,175.3 L190.0,174.6 L190.2,173.8 L190.4,173.1 L190.7,172.3 L190.9,171.6 L191.1,170.8 L191.3,170.1 L191.6,169.3 L191.8,168.6 L192.0,167.8 L192.2,167.1 L192.5,166.3 L192.7,165.6 L193.0,164.9 L193.2,164.1 L193.5,163.4 L193.7,162.6 L194.0,161.9 L194.2,161.2 L194.5,160.4 L194.7,159.7 L195.0,159.0 L195.3,158.2 L195.6,157.5 L195.8,156.8 L196.1,156.0 L196.4,155.3 L196.7,154.5 L197.0,153.8 L197.3,153.2 L197.6,152.5 L197.8,151.8 L198.1,151.2 L198.4,150.6 L198.6,149.9 L198.9,149.2 L199.2,148.6 L199.6,148.0 L200.0,147.3 L200.3,146.7 L200.7,146.1 L201.1,145.4 L201.5,144.8 L201.9,144.3 L202.3,143.8 L202.8,143.3 L203.2,142.8 L203.6,142.3 L204.2,141.9 L204.7,141.5 L205.3,141.1 L205.8,140.7 L206.4,140.3 L207.0,140.0 L207.6,139.6 L208.2,139.3 L208.4,139.8 L208.7,140.3 L208.9,140.8 L209.0,141.5 L209.2,142.2 L209.3,142.8 L209.4,143.5 L209.5,144.2 L209.5,145.0 L209.6,145.8 L209.7,146.5 L209.7,147.2 L209.8,148.0 L209.9,148.8 L210.0,149.5 L210.1,150.3 L210.1,151.1 L210.2,151.8 L210.3,152.6 L210.7,152.4 L211.0,152.2 L211.4,151.5 L211.8,150.9 L212.2,150.2 L212.8,149.7 L213.4,149.2 L213.6,149.8 L213.8,150.3 L213.9,150.9 L214.1,151.5 L214.7,151.9 L215.4,152.4 L216.0,152.8 L216.3,153.4 L216.7,154.1 L217.1,154.7 L217.4,155.3 L217.8,156.0 L218.1,156.6 L218.4,157.3 L218.7,157.9 L219.0,158.6 L219.3,159.2 L219.6,159.9 L219.9,160.5 L220.2,161.2 L220.5,161.9 L220.8,162.7 L221.1,163.4 L221.4,164.1 L221.7,164.9 L222.0,165.6 L222.3,166.3 L222.6,167.0 L222.8,167.7 L223.1,168.4 L223.4,169.0 L223.7,169.7 L223.9,170.4 L224.2,171.1 L224.5,171.8 L224.8,172.5 L225.1,173.2 L225.3,173.9 L225.6,174.6 L225.9,175.4 L226.2,176.1 L226.4,176.8 L226.7,177.5 L227.0,178.2 L227.3,178.9 L227.5,179.6 L227.8,180.3 L228.0,181.0 L228.3,181.8 L228.5,182.5 L228.8,183.2 L229.0,183.9 L229.3,184.6 L229.6,185.3 L229.8,185.9 L230.1,186.6 L230.4,187.3 L230.6,187.9 L230.9,188.6 L231.2,189.3 L231.4,189.9 L231.7,190.6 L232.0,191.3 L232.2,192.1 L232.5,192.8 L232.8,193.5 L233.1,194.2 L233.3,194.9 L233.6,195.7 L233.9,196.4 L234.2,197.1 L234.5,197.8 L234.7,198.4 L235.0,199.1 L235.3,199.8 L235.6,200.5 L235.9,201.2 L236.2,202.0 L236.5,202.7 L236.8,203.4 L237.2,204.0 L237.6,204.5 L238.0,205.1 L238.4,205.6 L238.8,206.2 L239.2,206.7 L239.6,207.3 L240.1,207.8 L240.5,208.3 L241.0,208.9 L241.5,209.4 L241.9,209.9 L242.4,210.4 L243.0,210.9 L243.6,211.4 L244.1,211.8 L244.7,212.3 L245.3,212.8 L245.8,213.2 L246.2,213.6 L246.7,214.0 L247.2,214.4 L247.7,214.7 L248.2,214.9 L248.7,215.2 L249.3,215.1 L249.9,214.9 L250.5,214.8 L250.8,214.3 L251.0,213.9 L251.3,213.4 L251.7,212.8 L252.0,212.1 L252.7,211.8 L253.5,211.5 L254.2,211.2 L254.6,210.5 L255.1,209.9 L255.5,209.2 L256.0,208.6 L256.4,208.0 L256.9,207.3 L257.3,206.7 L257.7,206.1 L258.1,205.5 L258.5,204.8 L258.9,204.2 L259.3,203.6 L259.7,203.0 L260.1,202.4 L260.5,201.8 L260.9,201.2 L261.2,200.7 L261.6,200.1 L262.0,199.5 L262.4,198.9 L262.8,198.3 L263.2,197.7 L263.6,197.1 L263.9,196.5 L264.3,195.9 L264.7,195.3 L265.1,194.7 L265.4,194.0 L265.8,193.3 L266.1,192.6 L266.5,191.8 L266.8,191.1 L267.1,190.4 L267.5,189.7 L267.8,189.0 L268.1,188.3 L268.4,187.6 L268.7,187.0 L269.0,186.3 L269.4,185.6 L269.7,184.9 L270.0,184.3 L270.3,183.6 L270.6,182.9 L270.9,182.2 L271.3,181.6 L271.6,180.9 L272.0,180.3 L272.3,179.7 L272.6,179.0 L273.0,178.3 L273.3,177.7 L273.7,177.1 L274.0,176.5 L274.4,175.9 L274.7,175.2 L275.1,174.6 L275.4,174.0 L275.8,173.4 L276.1,172.8 L276.4,172.2 L276.8,171.5 L277.1,170.9 L277.5,170.2 L277.8,169.6 L278.1,169.0 L278.5,168.3 L278.8,167.7 L279.2,167.1 L279.5,166.5 L279.9,165.9 L280.2,165.2 L280.6,164.6 L280.9,164.0 L281.2,163.4 L281.6,162.8 L282.0,162.2 L282.5,161.6 L282.9,161.0 L283.4,160.4 L283.8,159.8 L284.3,159.3 L284.7,158.8 L285.2,158.3 L285.6,157.8 L286.1,157.3 L286.7,156.9 L287.2,156.4 L287.8,156.0 L288.4,155.6 L289.0,155.3 L289.5,155.1 L290.1,154.8 L290.7,154.6 L291.4,154.6 L292.0,154.6 L292.7,154.6 L293.4,154.6 L293.8,155.3 L294.1,156.0 L294.3,156.7 L294.5,157.5 L294.7,158.2 L294.9,158.9 L295.0,159.6 L295.1,160.3 L295.3,161.0 L295.4,161.6 L295.6,162.2 L295.7,162.8 L295.8,163.4 L296.5,163.5 L297.3,163.6 L298.0,163.7 L298.4,164.1 L298.9,164.6 L299.4,165.1 L299.8,165.5 L300.5,165.9 L301.1,166.3 L301.8,166.8 L302.5,167.2 L303.1,167.6 L303.6,168.1 L304.2,168.5 L304.7,169.0 L305.3,169.4 L305.8,170.0 L306.2,170.5 L306.6,171.1 L307.1,171.7 L307.6,172.2 L308.0,172.8 L308.5,173.4 L308.9,174.0 L309.4,174.7 L309.9,175.3 L310.3,175.9 L310.8,176.5 L311.2,177.1 L311.6,177.7 L312.0,178.3 L312.3,178.8 L312.7,179.4 L313.1,180.0 L313.5,180.6 L313.9,181.2 L314.3,181.8 L314.7,182.4 L315.0,182.9 L315.4,183.5 L315.8,184.1 L316.2,184.7 L316.6,185.3 L317.0,186.0 L317.4,186.6 L317.8,187.3 L318.2,187.9 L318.6,188.6 L319.0,189.2 L319.4,189.8 L319.8,190.3 L320.2,190.9 L320.5,191.5 L320.9,192.1 L321.3,192.6 L321.7,193.2 L322.2,193.8 L322.6,194.4 L323.1,195.0 L323.5,195.6 L324.0,196.2 L324.4,196.7 L324.9,197.2 L325.3,197.7 L325.8,198.2 L326.2,198.7 L326.7,199.2 L327.2,199.6 L327.8,200.1 L328.3,200.5 L328.8,201.0 L329.3,201.4 L329.8,201.8 L330.4,202.1 L330.9,202.5 L331.4,202.9 L332.1,203.1 L332.8,203.4 L333.4,203.6 L334.1,203.8 L334.8,203.9 L335.5,204.0 L336.2,204.1 L336.9,204.2 L337.6,204.1 L338.2,204.0 L338.9,203.9 L339.6,203.8 L339.9,203.1 L340.1,202.4 L340.4,201.7 L340.6,201.0 L340.8,200.3 L341.1,199.7 L341.3,199.1 L341.5,198.4 L342.1,198.7 L342.7,199.0 L343.3,199.3 L343.8,198.9 L344.4,198.5 L344.9,198.2 L345.5,197.8 L346.0,197.4 L346.5,197.0 L347.1,196.5 L347.6,196.1 L348.2,195.6 L348.7,195.2 L349.3,194.7 L349.8,194.3 L350.4,193.8 L350.9,193.4 L351.5,192.9 L352.0,192.4 L352.6,192.0 L353.1,191.5 L353.7,191.1 L354.2,190.6 L354.8,190.1 L355.3,189.7 L355.9,189.2 L356.4,188.8 L357.0,188.3 L357.5,187.8 L358.1,187.4 L358.6,186.9 L359.2,186.5 L359.7,186.0 L360.2,185.6 L360.8,185.1 L361.3,184.7 L361.9,184.2 L362.4,183.8 L362.9,183.4 L363.5,183.0 L364.0,182.6 L364.7,182.2 L365.3,181.8 L365.9,181.5 L366.6,181.1 L367.2,180.8 L367.9,180.4 L368.5,180.1 L369.3,179.8 L370.1,179.6 L370.9,179.3 L371.6,179.0 L372.3,178.8 L373.0,178.7 L373.7,178.5 L374.4,178.3 L375.1,178.4 L375.8,178.6 L376.4,178.7 L377.1,178.8 L377.6,179.3 L378.2,179.8 L378.6,180.4 L379.0,181.0 L379.4,181.4 L379.9,181.9 L380.4,182.4 L380.8,182.8 L381.4,183.1 L381.9,183.4 L382.4,183.6 L383.0,183.9 L383.5,184.1 L384.0,184.3 L384.4,184.5 L384.9,184.7 L385.4,185.0 L385.9,185.3 L386.5,185.6 L387.0,185.8 L387.5,186.1 L388.0,186.4 L388.6,186.7 L389.2,187.0 L389.8,187.4 L390.4,187.7 L391.0,188.0 L391.6,188.3 L392.2,188.7 L392.8,189.1 L393.4,189.4 L394.0,189.8 L394.6,190.2 L395.2,190.6 L395.8,191.0 L396.4,191.5 L397.0,191.9 L397.7,192.3 L398.3,192.8 L398.9,193.2 L399.5,193.7 L400.1,194.2 L400.7,194.8 L401.3,195.3 L401.9,195.8 L402.5,196.3 L403.0,196.8 L403.6,197.3 L404.1,197.8 L404.6,198.3 L405.1,198.8 L405.7,199.3 L406.2,199.8 L406.7,200.3 L407.2,200.9 L407.7,201.4 L408.2,202.0 L408.7,202.5 L409.2,203.1 L409.7,203.6 L410.2,204.2 L410.7,204.7 L411.2,205.3 L411.7,205.8 L412.2,206.4 L412.7,206.9 L413.2,207.5 L413.8,208.1 L414.4,208.6 L414.9,209.2 L415.5,209.7 L416.1,210.2 L416.6,210.8 L417.2,211.3 L417.8,211.9 L418.4,212.4 L418.9,212.9 L419.5,213.4 L420.1,213.9 L420.7,214.5 L421.2,215.0 L421.8,215.5 L422.4,216.0 L423.0,216.5 L423.5,216.9 L424.1,217.4 L424.7,217.8 L425.3,218.3 L425.9,218.8 L426.4,219.2 L427.0,219.7 L427.6,220.1 L428.1,220.6 L428.7,221.1 L429.2,221.5 L429.8,221.9 L430.4,222.4 L430.9,222.9 L431.5,223.3 L432.1,223.8 L432.6,224.2 L433.2,224.7 L433.8,225.1 L434.3,225.6 L434.9,226.0 L435.4,226.5 L436.0,226.9 L436.6,227.4 L437.1,227.8 L437.7,228.3 L438.3,228.8 L438.9,229.2 L439.5,229.7 L440.0,230.1 L440.6,230.6 L441.1,231.1 L441.6,231.6 L442.1,232.1 L442.7,232.6 L443.2,233.1 L443.7,233.6 L444.2,234.1 L444.7,234.6 L445.3,235.2 L445.8,235.7 L446.3,236.3 L446.8,236.8 L447.4,237.4 L447.9,237.9 L448.4,238.4 L448.8,238.9 L449.3,239.4 L449.8,240.0 L450.2,240.5 L450.7,241.0 L451.1,241.6 L451.6,242.1 L452.0,242.7 L452.5,243.2 L452.9,243.8 L453.4,244.3 L453.8,244.9 L454.2,245.6 L454.6,246.2 L455.0,246.8 L455.4,247.4 L455.8,248.1 L456.2,248.7 L456.6,249.4 L457.0,250.0 L457.4,250.7 L457.7,251.4 L458.1,252.1 L458.5,252.7 L458.9,253.4 L459.2,254.0 L459.6,254.7 L459.9,255.3 L460.2,255.9 L460.6,256.5 L460.9,257.1 L461.3,257.8 L461.6,258.4 L462.0,259.1 L462.4,259.8 L462.8,260.5 L463.1,261.1 L463.5,261.8 L463.9,262.5 L464.3,263.2 L464.7,263.8 L465.0,264.5 L465.4,265.1 L465.7,265.7 L466.1,266.3 L466.4,267.0 L466.8,267.6 L467.1,268.2 L467.5,268.8 L467.8,269.4 L468.2,270.0 L468.5,270.6 L468.9,271.2 L469.2,271.8 L469.6,272.5 L469.9,273.2 L470.3,273.8 L470.6,274.5 L471.0,275.2 L471.4,275.9 L471.7,276.6 L472.1,277.2 L472.4,277.9 L472.8,278.6 L473.1,279.3 L473.5,279.9 L473.8,280.6 L474.1,281.3 L474.5,282.0 L474.8,282.6 L475.2,283.3 L475.5,284.0 L475.8,284.7 L476.2,285.3 L476.5,286.0 L476.8,286.6 L477.1,287.3 L477.4,287.9 L477.6,288.6 L477.9,289.2 L478.2,289.9 L478.5,290.6 L478.8,291.2 L479.1,291.9 L479.4,292.6 L479.7,293.3 L480.0,294.0 L480.2,294.7 L480.5,295.4 L480.8,296.1 L481.1,296.8 L481.3,297.5 L481.6,298.2 L481.8,298.9 L482.0,299.6 L482.2,300.3 L482.5,301.0 L482.7,301.7 L482.9,302.4 L483.2,303.1 L483.4,303.8 L483.6,304.5 L483.8,305.3 L484.1,306.0 L484.3,306.7 L484.5,307.5 L484.7,308.2 L484.9,308.9 L485.2,309.6 L485.4,310.4 L485.6,311.1 L485.8,311.8 L486.0,312.6 L486.2,313.3 L486.4,314.1 L486.6,314.8 L486.7,315.5 L486.9,316.3 L487.1,317.0 L487.3,317.8 L487.5,318.5 L487.7,319.2 L487.9,319.9 L488.0,320.7 L488.2,321.4 L488.4,322.1 L488.6,322.8 L488.8,323.5 L488.9,324.3 L489.1,325.0 L489.3,325.7 L489.5,326.4 L489.6,327.1 L489.8,327.8 L490.0,328.5 L490.2,329.2 L490.4,329.9 L490.5,330.6 L490.7,331.3 L490.9,332.0 L491.1,332.7 L491.3,333.4 L491.4,334.1 L491.6,334.9 L491.8,335.6 L492.0,336.3 L492.2,337.0 L492.4,337.7 L492.7,338.4 L492.9,339.1 L493.1,339.9 L493.3,340.6 L493.6,341.3 L493.8,342.0 L494.1,342.7 L494.4,343.4 L494.7,344.1 L495.0,344.9 L495.3,345.6 L495.6,346.3 L495.9,347.0 L496.2,347.6 L496.5,348.3 L496.9,348.9 L497.2,349.6 L497.5,350.2 L497.8,350.9"/>
<path stroke="#7D4E4E" d="M111.1,302.4 L111.7,302.2 L112.3,302.0 L112.9,301.8 L113.5,301.6 L114.1,301.3 L114.7,300.9 L115.2,300.6 L115.8,300.2 L116.4,299.9 L117.1,299.5 L117.7,299.0 L118.3,298.6 L119.0,298.2 L119.5,297.7 L119.9,297.2 L120.4,296.8 L120.8,296.3 L121.3,295.8 L121.6,295.2 L122.0,294.5 L122.3,293.9 L122.7,293.2 L123.0,292.6 L123.3,291.9 L123.6,291.3 L123.9,290.6 L124.2,290.0 L124.5,289.3 L124.9,288.6 L125.2,287.9 L125.6,287.2 L125.9,286.5 L126.3,285.8 L126.6,285.1 L127.0,284.4 L127.4,283.7 L127.7,283.0 L128.1,282.3 L128.4,281.6 L128.8,280.9 L129.1,280.2 L129.5,279.5 L129.8,278.8 L130.2,278.1 L130.6,277.4 L130.9,276.6 L131.2,275.9 L131.6,275.2 L131.9,274.6 L132.3,273.9 L132.6,273.2 L132.9,272.6 L133.3,271.9 L133.6,271.3 L134.0,270.9 L134.4,270.4 L134.8,270.2 L135.2,270.0 L135.6,270.3 L136.0,270.6 L136.4,270.6 L136.8,270.5 L137.2,269.9 L137.6,269.2 L138.1,269.0 L138.5,268.8 L138.9,269.3 L139.3,269.8 L139.7,270.2 L140.1,270.6 L140.6,271.2 L141.1,271.8 L141.6,272.4 L142.0,273.0 L142.3,273.6 L142.7,274.2 L143.1,274.8 L143.4,275.4 L143.7,276.1 L144.1,276.7 L144.4,277.3 L144.7,278.0 L145.0,278.6 L145.3,279.3 L145.6,280.1 L145.9,280.8 L146.3,281.5 L146.6,282.3 L146.9,283.0 L147.2,283.7 L147.4,284.4 L147.7,285.1 L147.9,285.8 L148.2,286.4 L148.4,287.1 L148.7,287.8 L148.9,288.5 L149.2,289.2 L149.4,290.0 L149.7,290.8 L149.9,291.5 L150.2,292.2 L150.4,293.0 L150.7,293.8 L150.9,294.5 L151.1,295.2 L151.3,295.9 L151.5,296.7 L151.7,297.4 L151.9,298.1 L152.1,298.9 L152.3,299.6 L152.5,300.3 L152.7,301.0 L152.8,301.8 L153.0,302.5 L153.2,303.2 L153.4,304.0 L153.5,304.7 L153.7,305.5 L153.9,306.2 L154.0,306.9 L154.2,307.7 L154.4,308.4 L154.6,309.1 L154.7,309.9 L154.9,310.6 L155.1,311.4 L155.3,312.2 L155.4,312.9 L155.6,313.7 L155.8,314.5 L156.0,315.3 L156.2,316.1 L156.3,316.8 L156.5,317.6 L156.7,318.4 L156.9,319.2 L157.0,319.9 L157.2,320.7 L157.4,321.5 L157.6,322.2 L157.7,323.0 L157.9,323.7 L158.0,324.4 L158.2,325.2 L158.4,325.9 L158.5,326.6 L158.7,327.3 L158.9,328.1 L159.0,328.8 L159.2,329.5 L159.3,330.3 L159.5,331.0 L159.7,331.8 L159.9,332.5 L160.1,333.3 L160.2,334.1 L160.4,334.8 L160.6,335.6 L160.8,336.3 L161.0,337.1 L161.2,337.9 L161.3,338.6 L161.5,339.4 L161.7,340.2 L161.9,340.9 L162.1,341.7 L162.3,342.4 L162.4,343.2 L162.6,344.0 L162.8,344.7 L163.0,345.5 L163.2,346.3 L163.4,347.0 L163.6,347.8 L163.8,348.5 L164.0,349.3 L164.2,350.1 L164.4,350.8 L164.6,351.6 L164.9,352.3 L165.1,353.1 L165.3,353.8 L165.5,354.6 L165.7,355.4 L165.9,356.1 L166.1,356.9 L166.3,357.6 L166.5,358.4 L166.8,359.1 L167.0,359.8 L167.3,360.5 L167.6,361.2 L167.9,361.9 L168.1,362.5 L168.4,363.2 L168.7,363.9 L169.0,364.6 L169.2,365.3 L169.5,366.0 L169.9,366.7 L170.2,367.4 L170.6,368.1 L171.0,368.8 L171.4,369.5 L171.7,370.2 L172.1,370.9 L172.6,371.3 L173.4,371.3 L174.2,371.3 L175.0,371.3 L175.8,371.3 L176.6,371.3 L177.4,371.3 L178.2,371.3 L179.0,371.3 L179.8,371.3 L180.6,371.3 L181.4,371.3 L182.2,371.3 L183.0,371.3 L183.8,371.3 L184.6,371.3 L185.4,371.3 L186.2,371.3 L187.0,371.3 L187.8,371.3 L188.6,371.3 L189.4,371.3 L190.2,371.3 L191.0,371.3 L191.8,371.3 L192.6,371.3 L193.4,371.3 L194.2,371.3 L195.0,371.3 L195.8,371.3 L196.6,371.3 L197.4,371.3 L198.2,371.3 L199.0,371.3 L199.8,371.3 L200.6,371.3 L201.4,371.3 L202.2,371.3 L203.0,371.3 L203.8,371.3 L204.6,371.3 L205.4,371.3 L206.2,371.3 L207.0,371.3 L207.8,371.3 L208.6,371.3 L209.4,371.3 L210.2,371.3 L211.0,371.3 L211.8,371.3 L212.6,371.3 L213.4,371.3 L214.2,371.3 L215.0,371.3 L215.8,371.3 L216.6,371.3 L217.4,371.3 L218.2,371.3 L219.0,371.3 L219.8,371.3 L220.6,371.3 L221.4,371.3 L222.2,371.3 L223.0,371.3 L223.8,371.3 L224.6,371.3 L225.4,371.3 L226.2,371.3 L227.0,371.3 L227.8,371.3 L228.6,371.3 L229.4,371.3 L230.2,371.3 L231.0,371.3 L231.8,371.3 L232.6,371.3 L233.4,371.3 L234.2,371.3 L235.0,371.3 L235.8,371.3 L236.6,371.3 L237.4,371.3 L238.2,371.3 L239.0,371.3 L239.8,371.3 L240.6,371.3 L241.4,371.3 L242.2,371.3 L243.0,371.3 L243.8,371.3 L244.6,371.3 L245.4,371.3 L246.2,371.3 L247.0,371.3 L247.8,371.3 L248.6,371.3 L249.4,371.3 L250.2,371.3 L251.0,371.3 L251.8,371.3 L252.6,371.3 L253.4,371.3 L254.2,371.3 L255.0,371.3 L255.8,371.3 L256.6,371.3 L257.4,371.3 L258.2,371.3 L259.0,371.3 L259.8,371.3 L260.6,371.3 L261.4,371.3 L262.2,371.3 L263.0,371.3 L263.8,371.3 L264.6,371.3 L265.4,371.3 L266.2,371.3 L267.0,371.3 L267.8,371.3 L268.6,371.3 L269.4,371.3 L270.2,371.3 L271.0,371.3 L271.8,371.3 L272.6,371.3 L273.4,371.3 L274.2,371.3 L275.0,371.3 L275.8,371.3 L276.6,371.3 L277.4,371.3 L278.2,371.3 L279.0,371.3 L279.8,371.3 L280.6,371.3 L281.4,371.3 L282.2,371.3 L283.0,371.3 L283.8,371.3 L284.6,371.3 L285.4,371.3 L286.2,371.3 L287.0,371.3 L287.8,371.3 L288.6,371.3 L289.4,371.3 L290.2,371.3 L291.0,371.3 L291.8,371.3 L292.6,371.3 L293.4,371.3 L294.2,371.3 L295.0,371.3 L295.8,371.3 L296.6,371.3 L297.4,371.3 L298.2,371.3 L299.0,371.3 L299.8,371.3 L300.6,371.3 L301.4,371.3 L302.2,371.3 L303.0,371.3 L303.8,371.3 L304.6,371.3 L305.4,371.3 L306.2,371.3 L307.0,371.3 L307.8,371.3 L308.6,371.3 L309.4,371.3 L310.2,371.3 L311.0,371.3 L311.8,371.3 L312.6,371.3 L313.4,371.3 L314.2,371.3 L315.0,371.3 L315.8,371.3 L316.6,371.3 L317.4,371.3 L318.2,371.3 L319.0,371.3 L319.8,371.3 L320.6,371.3 L321.4,371.3 L322.2,371.3 L323.0,371.3 L323.8,371.3 L324.6,371.3 L325.4,371.3 L326.2,371.3 L327.0,371.3 L327.8,371.3 L328.6,371.3 L329.4,371.3 L330.2,371.3 L331.0,371.3 L331.8,371.3 L332.6,371.3 L333.4,371.3 L334.2,371.3 L335.0,371.3 L335.8,371.3 L336.6,371.3 L337.4,371.3 L338.2,371.3 L339.0,371.3 L339.8,371.3 L340.6,371.3 L341.4,371.3 L342.2,371.3 L343.0,371.3 L343.8,371.3 L344.6,371.3 L345.4,371.3 L346.2,371.3 L347.0,371.3 L347.8,371.3 L348.6,371.3 L349.4,371.3 L350.2,371.3 L351.0,371.3 L351.8,371.3 L352.6,371.3 L353.4,371.3 L354.2,371.3 L355.0,371.3 L355.8,371.3 L356.6,371.3 L357.4,371.3 L358.2,371.3 L359.0,371.3 L359.8,371.3 L360.6,371.3 L361.4,371.3 L362.2,371.3 L363.0,371.3 L363.8,371.3 L364.6,371.3 L365.4,371.3 L366.2,371.3 L367.0,371.3 L367.8,371.3 L368.6,371.3 L369.4,371.3 L370.2,371.3 L371.0,371.3 L371.8,371.3 L372.6,371.3 L373.4,371.3 L374.2,371.3 L375.0,371.3 L375.8,371.3 L376.6,371.3 L377.4,371.3 L378.2,371.3 L379.0,371.3 L379.8,371.3 L380.6,371.3 L381.4,371.3 L382.2,371.3 L383.0,371.3 L383.8,371.3 L384.6,371.3 L385.4,371.3 L386.2,371.3 L387.0,371.3 L387.8,371.3 L388.6,371.3 L389.4,371.3 L390.2,371.3 L391.0,371.3 L391.8,371.3 L392.6,371.3 L393.4,371.3 L394.2,371.3 L395.0,371.3 L395.8,371.3 L396.6,371.3 L397.4,371.3 L398.2,371.3 L399.0,371.3 L399.8,371.3 L400.6,371.3 L401.4,371.3 L402.2,371.3 L403.0,371.3 L403.8,371.3 L404.6,371.3 L405.4,371.3 L406.2,371.3 L407.0,371.3 L407.8,371.3 L408.6,371.3 L409.4,371.3 L410.2,371.3 L411.0,371.3 L411.8,371.3 L412.6,371.3 L413.4,371.3 L414.2,371.3 L415.0,371.3 L415.8,371.3 L416.6,371.3 L417.4,371.3 L418.2,371.3 L419.0,371.3 L419.8,371.3 L420.6,371.3 L421.4,371.3 L422.2,371.3 L423.0,371.3 L423.8,371.3 L424.6,371.3 L425.4,371.3 L426.2,371.3 L427.0,371.3 L427.8,371.3 L428.6,371.3 L429.4,371.3 L430.2,371.3 L431.0,371.3 L431.8,371.3 L432.6,371.3 L433.4,371.3 L434.2,371.3 L435.0,371.3 L435.8,371.3 L436.6,371.3 L437.4,371.3 L438.2,371.3 L439.0,371.3 L439.8,371.3 L440.6,371.3 L441.4,371.3 L442.2,371.3 L443.0,371.3 L443.8,371.3 L444.6,371.3 L445.4,371.3 L446.2,371.3 L447.0,371.3 L447.8,371.3 L448.6,371.3 L449.4,371.3 L450.2,371.3 L451.0,371.3 L451.8,371.3 L452.6,371.3 L453.4,371.3 L454.2,371.3 L455.0,371.3 L455.8,371.3 L456.6,371.3 L457.4,371.3 L458.2,371.3 L459.0,371.3 L459.8,371.3 L460.6,371.3 L461.4,371.3 L462.2,371.3 L463.0,371.3 L463.8,371.3 L464.6,371.3 L465.4,371.3 L466.2,371.3 L467.0,371.3 L467.8,371.3 L468.6,371.3 L469.4,371.3 L470.2,371.3 L471.0,371.3 L471.8,371.3 L472.6,371.3 L473.4,371.3 L474.2,371.3 L475.0,371.3 L475.8,371.3 L476.6,371.3 L477.4,371.3 L478.2,371.3 L479.0,371.3 L479.8,371.3 L480.6,371.3 L481.4,371.3 L482.2,371.3 L483.0,371.3 L483.8,371.3 L484.6,371.3 L485.4,371.3 L486.2,371.3 L487.0,371.3 L487.8,371.3 L488.6,371.3 L489.4,371.3 L490.2,371.3 L491.0,371.3 L491.8,371.3 L492.6,371.3 L493.4,371.3 L494.2,371.3 L495.0,371.3 L495.8,371.3 L496.6,371.3 L497.4,371.3 L498.2,371.3"/>
</g>
<g stroke="#000" stroke-width="1.6" fill="none" stroke-linecap="butt">
<rect x="78.28" y="17.30" width="465.15" height="373.67"/>
<line x1="70.98" y1="371.30" x2="78.28" y2="371.30"/>
<line x1="70.98" y1="331.97" x2="78.28" y2="331.97"/>
<line x1="70.98" y1="292.63" x2="78.28" y2="292.63"/>
<line x1="70.98" y1="253.30" x2="78.28" y2="253.30"/>
<line x1="70.98" y1="213.97" x2="78.28" y2="213.97"/>
<line x1="70.98" y1="174.63" x2="78.28" y2="174.63"/>
<line x1="70.98" y1="135.30" x2="78.28" y2="135.30"/>
<line x1="70.98" y1="95.97" x2="78.28" y2="95.97"/>
<line x1="70.98" y1="56.63" x2="78.28" y2="56.63"/>
<line x1="70.98" y1="17.30" x2="78.28" y2="17.30"/>
<line x1="74.28" y1="390.97" x2="78.28" y2="390.97"/>
<line x1="74.28" y1="351.63" x2="78.28" y2="351.63"/>
<line x1="74.28" y1="312.30" x2="78.28" y2="312.30"/>
<line x1="74.28" y1="272.97" x2="78.28" y2="272.97"/>
<line x1="74.28" y1="233.63" x2="78.28" y2="233.63"/>
<line x1="74.28" y1="194.30" x2="78.28" y2="194.30"/>
<line x1="74.28" y1="154.97" x2="78.28" y2="154.97"/>
<line x1="74.28" y1="115.63" x2="78.28" y2="115.63"/>
<line x1="74.28" y1="76.30" x2="78.28" y2="76.30"/>
<line x1="74.28" y1="36.97" x2="78.28" y2="36.97"/>
<line x1="111.50" y1="390.97" x2="111.50" y2="398.57"/>
<line x1="177.95" y1="390.97" x2="177.95" y2="398.57"/>
<line x1="244.40" y1="390.97" x2="244.40" y2="398.57"/>
<line x1="310.85" y1="390.97" x2="310.85" y2="398.57"/>
<line x1="377.30" y1="390.97" x2="377.30" y2="398.57"/>
<line x1="443.75" y1="390.97" x2="443.75" y2="398.57"/>
<line x1="510.20" y1="390.97" x2="510.20" y2="398.57"/>
<line x1="78.28" y1="390.97" x2="78.28" y2="394.97"/>
<line x1="144.72" y1="390.97" x2="144.72" y2="394.97"/>
<line x1="211.18" y1="390.97" x2="211.18" y2="394.97"/>
<line x1="277.62" y1="390.97" x2="277.62" y2="394.97"/>
<line x1="344.08" y1="390.97" x2="344.08" y2="394.97"/>
<line x1="410.53" y1="390.97" x2="410.53" y2="394.97"/>
<line x1="476.98" y1="390.97" x2="476.98" y2="394.97"/>
<line x1="543.42" y1="390.97" x2="543.42" y2="394.97"/>
</g>
<text class="tk" x="56.4" y="378.9">0</text>
<text class="tk" x="46.4" y="339.6">50</text>
<text class="tk" x="36.4" y="300.2">100</text>
<text class="tk" x="36.4" y="260.9">150</text>
<text class="tk" x="36.4" y="221.6">200</text>
<text class="tk" x="36.4" y="182.2">250</text>
<text class="tk" x="36.4" y="142.9">300</text>
<text class="tk" x="36.4" y="103.6">350</text>
<text class="tk" x="36.4" y="64.2">400</text>
<text class="tk" x="36.4" y="24.9">450</text>
<text class="tk" x="97.1" y="420.5">0<tspan letter-spacing="5.1">.</tspan>0</text>
<text class="tk" x="163.5" y="420.5">0<tspan letter-spacing="5.1">.</tspan>5</text>
<text class="tk" x="230.0" y="420.5">1<tspan letter-spacing="5.1">.</tspan>0</text>
<text class="tk" x="296.5" y="420.5">1<tspan letter-spacing="5.1">.</tspan>5</text>
<text class="tk" x="362.9" y="420.5">2<tspan letter-spacing="5.1">.</tspan>0</text>
<text class="tk" x="429.4" y="420.5">2<tspan letter-spacing="5.1">.</tspan>5</text>
<text class="tk" x="495.8" y="420.5">3<tspan letter-spacing="5.1">.</tspan>0</text>
<text class="ax" x="274.2" y="454.5" textLength="74.3" lengthAdjust="spacing">Time /s</text>
<text class="ax" transform="translate(24.6,335) rotate(-90)" textLength="286.6" lengthAdjust="spacing">Wheel-rail vertical force /kN</text>
<g fill="none" stroke-width="2.1">
<line x1="174.5" y1="45.6" x2="219.5" y2="45.6" stroke="#515151"/>
<line x1="351.5" y1="45.6" x2="396.5" y2="45.6" stroke="#F14040"/>
<line x1="174.5" y1="69.3" x2="219.5" y2="69.3" stroke="#1A6FDF"/>
<line x1="358.2" y1="69.3" x2="403.2" y2="69.3" stroke="#37AD6B"/>
<line x1="174.5" y1="93.5" x2="219.5" y2="93.5" stroke="#B177DE"/>
<line x1="354.9" y1="93.5" x2="399.9" y2="93.5" stroke="#CC9900"/>
<line x1="174.5" y1="117.3" x2="219.5" y2="117.3" stroke="#00CBCC"/>
<line x1="353.7" y1="117.3" x2="398.7" y2="117.3" stroke="#7D4E4E"/>
</g>
<text class="lg" x="224.0" y="52.0">1st wheelset R</text>
<text class="lg" x="401.3" y="52.0">1st wheelset L</text>
<text class="lg" x="224.0" y="75.7">2nd wheelset R</text>
<text class="lg" x="408.0" y="75.7">2nd wheelset L</text>
<text class="lg" x="224.0" y="99.9">3rd wheelset R</text>
<text class="lg" x="404.7" y="99.9">3rd wheelset L</text>
<text class="lg" x="224.0" y="123.7">4th wheelset R</text>
<text class="lg" x="403.5" y="123.7">4th wheelset L</text>
</svg></body></html>
